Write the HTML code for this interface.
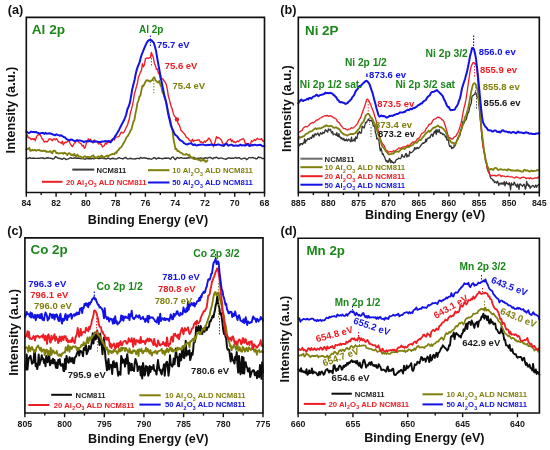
<!DOCTYPE html>
<html><head><meta charset="utf-8"><style>
html,body{margin:0;padding:0;background:#fff;width:550px;height:450px;overflow:hidden}
svg{display:block;will-change:transform;opacity:0.999}
</style></head><body>
<svg width="550" height="450" viewBox="0 0 550 450">
<rect width="550" height="450" fill="#fff"/>
<text x="7.8" y="13.5" font-size="12.7" fill="#111" text-anchor="start" font-family="&quot;Liberation Sans&quot;, sans-serif" font-weight="bold" >(a)</text>
<text x="0" y="0" font-size="12.8" fill="#111" text-anchor="middle" font-family="&quot;Liberation Sans&quot;, sans-serif" font-weight="bold" transform="translate(15.3,110) rotate(-90)">Intensity (a.u.)</text>
<text x="148" y="223.5" font-size="12.6" fill="#111" text-anchor="middle" font-family="&quot;Liberation Sans&quot;, sans-serif" font-weight="bold" >Binding Energy (eV)</text>
<line x1="264.50" y1="192.5" x2="264.50" y2="196.7" stroke="#111" stroke-width="1.4"/>
<text x="264.50" y="206" font-size="8.8" fill="#1a1a1a" text-anchor="middle" font-family="&quot;Liberation Sans&quot;, sans-serif" font-weight="bold" >68</text>
<line x1="249.61" y1="192.5" x2="249.61" y2="195.1" stroke="#111" stroke-width="1.4"/>
<line x1="234.72" y1="192.5" x2="234.72" y2="196.7" stroke="#111" stroke-width="1.4"/>
<text x="234.72" y="206" font-size="8.8" fill="#1a1a1a" text-anchor="middle" font-family="&quot;Liberation Sans&quot;, sans-serif" font-weight="bold" >70</text>
<line x1="219.84" y1="192.5" x2="219.84" y2="195.1" stroke="#111" stroke-width="1.4"/>
<line x1="204.95" y1="192.5" x2="204.95" y2="196.7" stroke="#111" stroke-width="1.4"/>
<text x="204.95" y="206" font-size="8.8" fill="#1a1a1a" text-anchor="middle" font-family="&quot;Liberation Sans&quot;, sans-serif" font-weight="bold" >72</text>
<line x1="190.06" y1="192.5" x2="190.06" y2="195.1" stroke="#111" stroke-width="1.4"/>
<line x1="175.18" y1="192.5" x2="175.18" y2="196.7" stroke="#111" stroke-width="1.4"/>
<text x="175.18" y="206" font-size="8.8" fill="#1a1a1a" text-anchor="middle" font-family="&quot;Liberation Sans&quot;, sans-serif" font-weight="bold" >74</text>
<line x1="160.29" y1="192.5" x2="160.29" y2="195.1" stroke="#111" stroke-width="1.4"/>
<line x1="145.40" y1="192.5" x2="145.40" y2="196.7" stroke="#111" stroke-width="1.4"/>
<text x="145.40" y="206" font-size="8.8" fill="#1a1a1a" text-anchor="middle" font-family="&quot;Liberation Sans&quot;, sans-serif" font-weight="bold" >76</text>
<line x1="130.51" y1="192.5" x2="130.51" y2="195.1" stroke="#111" stroke-width="1.4"/>
<line x1="115.62" y1="192.5" x2="115.62" y2="196.7" stroke="#111" stroke-width="1.4"/>
<text x="115.62" y="206" font-size="8.8" fill="#1a1a1a" text-anchor="middle" font-family="&quot;Liberation Sans&quot;, sans-serif" font-weight="bold" >78</text>
<line x1="100.74" y1="192.5" x2="100.74" y2="195.1" stroke="#111" stroke-width="1.4"/>
<line x1="85.85" y1="192.5" x2="85.85" y2="196.7" stroke="#111" stroke-width="1.4"/>
<text x="85.85" y="206" font-size="8.8" fill="#1a1a1a" text-anchor="middle" font-family="&quot;Liberation Sans&quot;, sans-serif" font-weight="bold" >80</text>
<line x1="70.96" y1="192.5" x2="70.96" y2="195.1" stroke="#111" stroke-width="1.4"/>
<line x1="56.08" y1="192.5" x2="56.08" y2="196.7" stroke="#111" stroke-width="1.4"/>
<text x="56.08" y="206" font-size="8.8" fill="#1a1a1a" text-anchor="middle" font-family="&quot;Liberation Sans&quot;, sans-serif" font-weight="bold" >82</text>
<line x1="41.19" y1="192.5" x2="41.19" y2="195.1" stroke="#111" stroke-width="1.4"/>
<line x1="26.30" y1="192.5" x2="26.30" y2="196.7" stroke="#111" stroke-width="1.4"/>
<text x="26.30" y="206" font-size="8.8" fill="#1a1a1a" text-anchor="middle" font-family="&quot;Liberation Sans&quot;, sans-serif" font-weight="bold" >84</text>
<path d="M26.3,158.3 L27.5,158.5 L28.7,158.2 L29.9,157.5 L31.1,158.4 L32.3,158.4 L33.5,158.0 L34.7,158.4 L35.9,158.4 L37.1,158.4 L38.3,158.3 L39.5,158.4 L40.7,157.9 L41.9,158.0 L43.1,158.0 L44.3,158.5 L45.5,158.3 L46.8,158.0 L48.0,157.8 L49.2,158.1 L50.4,158.2 L51.6,158.4 L52.8,159.1 L54.0,158.7 L55.2,156.8 L56.4,157.0 L57.6,158.0 L58.8,158.2 L60.0,158.5 L61.2,158.8 L62.4,159.4 L63.6,158.1 L64.8,158.4 L66.0,159.6 L67.2,159.2 L68.4,158.8 L69.6,158.1 L70.8,157.6 L72.0,158.4 L73.2,158.4 L74.4,157.8 L75.6,158.0 L76.8,158.3 L78.0,158.0 L79.2,158.4 L80.4,158.6 L81.6,158.5 L82.8,158.4 L84.0,158.9 L85.2,159.2 L86.5,158.7 L87.7,158.3 L88.9,158.8 L90.1,158.5 L91.3,158.8 L92.5,158.2 L93.7,158.9 L94.9,158.5 L96.1,157.9 L97.3,158.3 L98.5,158.6 L99.7,158.6 L100.9,158.0 L102.1,157.9 L103.3,158.5 L104.5,158.4 L105.7,158.8 L106.9,158.8 L108.1,157.9 L109.3,158.7 L110.5,159.2 L111.7,158.5 L112.9,158.2 L114.1,158.9 L115.3,158.9 L116.5,159.0 L117.7,158.3 L118.9,157.7 L120.1,158.2 L121.3,158.4 L122.5,158.9 L123.7,158.5 L124.9,157.5 L126.2,157.8 L127.4,158.9 L128.6,158.9 L129.8,158.3 L131.0,158.5 L132.2,158.8 L133.4,158.9 L134.6,159.0 L135.8,158.7 L137.0,158.4 L138.2,158.4 L139.4,158.7 L140.6,157.4 L141.8,158.1 L143.0,158.2 L144.2,157.7 L145.4,158.3 L146.6,158.2 L147.8,158.8 L149.0,158.5 L150.2,158.9 L151.4,159.2 L152.6,158.6 L153.8,157.8 L155.0,157.7 L156.2,159.1 L157.4,158.4 L158.6,158.0 L159.8,158.3 L161.0,158.4 L162.2,158.8 L163.4,158.5 L164.6,158.2 L165.9,158.0 L167.1,158.3 L168.3,157.9 L169.5,158.7 L170.7,159.0 L171.9,157.4 L173.1,156.9 L174.3,158.6 L175.5,159.6 L176.7,157.9 L177.9,157.5 L179.1,158.3 L180.3,157.8 L181.5,157.8 L182.7,158.1 L183.9,158.4 L185.1,158.1 L186.3,158.3 L187.5,158.0 L188.7,157.7 L189.9,157.8 L191.1,157.7 L192.3,157.9 L193.5,157.5 L194.7,157.7 L195.9,158.8 L197.1,158.4 L198.3,158.2 L199.5,158.4 L200.7,158.0 L201.9,158.1 L203.1,158.4 L204.3,158.3 L205.6,157.7 L206.8,158.4 L208.0,157.9 L209.2,157.4 L210.4,157.5 L211.6,158.1 L212.8,158.9 L214.0,157.8 L215.2,157.8 L216.4,157.1 L217.6,158.0 L218.8,158.6 L220.0,158.1 L221.2,157.9 L222.4,158.3 L223.6,158.7 L224.8,158.9 L226.0,159.4 L227.2,158.5 L228.4,157.9 L229.6,158.0 L230.8,158.2 L232.0,158.2 L233.2,158.2 L234.4,158.1 L235.6,157.4 L236.8,158.3 L238.0,157.8 L239.2,157.6 L240.4,158.6 L241.6,159.1 L242.8,158.7 L244.0,158.2 L245.3,158.1 L246.5,159.7 L247.7,158.9 L248.9,157.6 L250.1,157.6 L251.3,157.9 L252.5,157.4 L253.7,158.0 L254.9,158.1 L256.1,158.9 L257.3,158.5 L258.5,156.9 L259.7,157.6 L260.9,157.5 L262.1,158.6 L263.3,158.5 L264.5,158.6" fill="none" stroke="#333" stroke-width="1.4" stroke-linejoin="round" stroke-linecap="round" opacity="1"/>
<path d="M26.3,149.4 L27.3,149.0 L28.3,149.0 L29.3,147.8 L30.3,150.9 L31.3,150.7 L32.3,149.7 L33.3,150.5 L34.3,150.2 L35.3,149.8 L36.3,150.9 L37.3,150.1 L38.3,150.1 L39.3,149.9 L40.3,150.9 L41.3,150.7 L42.3,151.2 L43.3,150.5 L44.3,151.0 L45.3,150.6 L46.3,151.8 L47.3,151.6 L48.3,151.8 L49.3,151.9 L50.3,151.0 L51.3,152.5 L52.3,153.4 L53.3,150.9 L54.3,150.7 L55.3,151.1 L56.3,153.0 L57.3,152.8 L58.3,153.5 L59.3,153.4 L60.3,153.1 L61.3,153.2 L62.3,153.1 L63.3,153.8 L64.3,152.6 L65.3,153.1 L66.3,153.9 L67.3,155.1 L68.3,153.4 L69.3,153.2 L70.3,153.8 L71.3,155.1 L72.4,154.6 L73.4,155.7 L74.4,153.8 L75.4,156.0 L76.4,156.2 L77.4,154.6 L78.4,155.9 L79.4,156.9 L80.4,156.4 L81.4,157.2 L82.4,158.3 L83.4,156.9 L84.4,156.5 L85.4,156.3 L86.4,157.4 L87.4,156.9 L88.4,156.9 L89.4,157.0 L90.4,157.5 L91.4,156.2 L92.4,155.7 L93.4,155.2 L94.4,157.8 L95.4,157.2 L96.4,158.1 L97.4,156.9 L98.4,156.3 L99.4,157.1 L100.4,156.6 L101.4,155.7 L102.4,155.9 L103.4,157.8 L104.4,156.8 L105.4,156.6 L106.4,155.9 L107.4,155.5 L108.4,156.4 L109.4,155.4 L110.4,154.6 L111.4,154.6 L112.4,153.8 L113.4,154.2 L114.4,154.4 L115.4,152.4 L116.4,153.1 L117.4,150.8 L118.4,150.2 L119.4,148.5 L120.4,147.8 L121.4,146.8 L122.4,145.2 L123.4,143.5 L124.4,141.8 L125.4,139.9 L126.4,137.5 L127.4,136.4 L128.4,134.9 L129.4,133.1 L130.4,130.8 L131.4,129.5 L132.4,125.4 L133.4,121.8 L134.4,120.0 L135.4,113.9 L136.4,109.3 L137.4,103.2 L138.4,101.0 L139.4,96.5 L140.4,95.8 L141.4,90.4 L142.4,85.6 L143.4,86.2 L144.4,83.9 L145.4,81.9 L146.4,80.2 L147.4,80.6 L148.4,80.3 L149.4,81.4 L150.4,81.6 L151.4,80.3 L152.4,80.1 L153.4,78.0 L154.4,77.2 L155.4,80.0 L156.4,81.3 L157.4,82.1 L158.4,82.6 L159.4,80.8 L160.4,85.1 L161.4,86.9 L162.5,92.5 L163.5,93.9 L164.5,97.4 L165.5,99.7 L166.5,103.5 L167.5,108.7 L168.5,112.9 L169.5,117.6 L170.5,120.6 L171.5,126.5 L172.5,130.7 L173.5,139.0 L174.5,144.2 L175.5,149.2 L176.5,149.0 L177.5,151.1 L178.5,151.0 L179.5,151.8 L180.5,152.7 L181.5,152.9 L182.5,153.8 L183.5,154.5 L184.5,154.7 L185.5,154.4 L186.5,153.9 L187.5,154.7 L188.5,155.5 L189.5,154.8 L190.5,157.2 L191.5,157.2 L192.5,157.6 L193.5,158.9 L194.5,159.2 L195.5,159.1 L196.5,158.5 L197.5,159.6 L198.5,159.9 L199.5,159.3 L200.5,160.9 L201.5,160.7 L202.5,159.1 L203.5,160.6 L204.5,160.0 L205.5,161.8 L206.5,161.6 L207.5,160.3" fill="none" stroke="#7f7f0c" stroke-width="1.8" stroke-linejoin="round" stroke-linecap="round" opacity="1"/>
<path d="M26.3,138.3 L27.3,134.9 L28.3,137.7 L29.3,137.7 L30.3,138.6 L31.3,139.6 L32.3,138.6 L33.3,139.6 L34.3,138.4 L35.3,140.6 L36.3,137.2 L37.3,135.5 L38.3,134.8 L39.3,134.4 L40.3,135.1 L41.3,137.0 L42.3,139.1 L43.3,140.1 L44.3,142.1 L45.3,141.5 L46.3,141.3 L47.3,141.9 L48.3,140.3 L49.3,138.7 L50.3,138.8 L51.3,139.6 L52.3,140.8 L53.3,138.9 L54.3,138.9 L55.3,139.9 L56.3,138.6 L57.3,139.7 L58.3,141.6 L59.3,142.2 L60.3,142.4 L61.3,143.3 L62.3,141.2 L63.3,144.7 L64.3,143.3 L65.3,142.0 L66.3,142.5 L67.3,141.9 L68.3,140.7 L69.3,141.3 L70.3,143.9 L71.3,145.3 L72.3,146.5 L73.3,145.1 L74.3,143.2 L75.3,142.5 L76.3,140.4 L77.3,139.7 L78.3,141.7 L79.3,142.9 L80.3,143.2 L81.3,144.0 L82.3,146.1 L83.3,145.2 L84.3,148.4 L85.3,147.3 L86.4,142.6 L87.4,140.9 L88.4,138.9 L89.4,140.6 L90.4,139.2 L91.4,140.9 L92.4,142.6 L93.4,142.8 L94.4,139.9 L95.4,141.0 L96.4,141.8 L97.4,141.7 L98.4,144.0 L99.4,142.6 L100.4,144.4 L101.4,144.2 L102.4,147.0 L103.4,146.3 L104.4,145.4 L105.4,142.9 L106.4,144.1 L107.4,142.7 L108.4,142.3 L109.4,142.3 L110.4,141.3 L111.4,140.0 L112.4,139.4 L113.4,139.0 L114.4,140.1 L115.4,137.2 L116.4,137.1 L117.4,136.8 L118.4,136.6 L119.4,136.0 L120.4,133.5 L121.4,132.2 L122.4,132.8 L123.4,132.9 L124.4,131.3 L125.4,129.2 L126.4,127.0 L127.4,125.3 L128.4,122.0 L129.4,118.5 L130.4,112.8 L131.4,109.6 L132.4,105.4 L133.4,100.6 L134.4,93.8 L135.4,90.7 L136.4,86.6 L137.4,83.3 L138.4,77.0 L139.4,75.2 L140.4,72.1 L141.4,70.6 L142.4,63.6 L143.4,66.9 L144.4,64.7 L145.4,58.9 L146.4,58.2 L147.4,57.9 L148.4,58.4 L149.4,57.8 L150.4,57.5 L151.4,52.5 L152.4,55.2 L153.4,57.8 L154.4,63.5 L155.4,65.3 L156.4,69.3 L157.4,68.9 L158.4,73.1 L159.4,74.2 L160.4,79.3 L161.4,79.1 L162.4,78.7 L163.4,79.6 L164.4,81.6 L165.4,82.5 L166.4,85.0 L167.4,89.8 L168.4,96.4 L169.4,99.7 L170.4,103.8 L171.4,107.0 L172.4,109.8 L173.4,113.7 L174.4,116.1 L175.4,117.2 L176.4,119.4 L177.4,121.5 L178.4,124.0 L179.4,125.2 L180.4,128.4 L181.4,130.9 L182.4,131.6 L183.4,132.9 L184.4,133.8 L185.4,135.4 L186.4,137.5 L187.4,137.6 L188.4,138.7 L189.4,140.3 L190.4,140.8 L191.4,141.9 L192.4,139.2 L193.4,141.6 L194.4,140.5 L195.4,140.4 L196.4,140.3 L197.4,140.0 L198.4,139.9 L199.4,140.0 L200.4,142.3 L201.4,141.8 L202.4,142.4 L203.4,142.8 L204.4,141.1 L205.5,142.2 L206.5,140.4 L207.5,140.4 L208.5,138.2 L209.5,138.5 L210.5,140.4 L211.5,142.6 L212.5,144.5 L213.5,146.8 L214.5,143.8 L215.5,140.3 L216.5,136.6 L217.5,138.2 L218.5,137.6 L219.5,138.2 L220.5,139.3 L221.5,140.3 L222.5,142.9 L223.5,144.8 L224.5,144.4 L225.5,144.0 L226.5,143.3 L227.5,140.7 L228.5,139.7 L229.5,139.4 L230.5,139.0 L231.5,141.5 L232.5,140.2 L233.5,142.1 L234.5,141.8 L235.5,142.7 L236.5,141.7 L237.5,141.0 L238.5,141.7 L239.5,140.4 L240.5,139.9 L241.5,139.4 L242.5,138.8 L243.5,138.7 L244.5,140.8 L245.5,144.3 L246.5,143.5 L247.5,144.7 L248.5,143.5 L249.5,144.7 L250.5,144.1 L251.5,140.7 L252.5,141.5 L253.5,140.7 L254.5,139.5 L255.5,140.5 L256.5,139.4 L257.5,138.1 L258.5,139.2 L259.5,139.4 L260.5,139.5 L261.5,138.6 L262.5,140.6 L263.5,141.4 L264.5,140.5" fill="none" stroke="#ee1d24" stroke-width="1.35" stroke-linejoin="round" stroke-linecap="round" opacity="1"/>
<path d="M26.3,131.8 L27.5,132.2 L28.7,133.1 L29.9,132.6 L31.1,131.6 L32.3,132.1 L33.5,132.1 L34.7,132.3 L35.9,131.8 L37.1,132.6 L38.3,133.0 L39.5,133.6 L40.7,133.3 L41.9,133.1 L43.1,132.7 L44.3,133.9 L45.5,132.9 L46.8,133.8 L48.0,133.6 L49.2,133.3 L50.4,133.5 L51.6,133.9 L52.8,134.5 L54.0,134.8 L55.2,135.3 L56.4,134.3 L57.6,134.9 L58.8,135.2 L60.0,135.8 L61.2,135.2 L62.4,136.2 L63.6,137.0 L64.8,137.2 L66.0,138.7 L67.2,139.3 L68.4,140.0 L69.6,140.3 L70.8,139.6 L72.0,139.7 L73.2,140.3 L74.4,141.0 L75.6,141.1 L76.8,140.4 L78.0,140.4 L79.2,140.4 L80.4,140.6 L81.6,140.9 L82.8,141.4 L84.0,142.2 L85.2,141.3 L86.5,141.3 L87.7,141.5 L88.9,141.0 L90.1,141.2 L91.3,141.5 L92.5,141.7 L93.7,141.1 L94.9,141.9 L96.1,141.4 L97.3,141.6 L98.5,141.9 L99.7,141.9 L100.9,142.0 L102.1,141.5 L103.3,141.4 L104.5,141.3 L105.7,141.0 L106.9,141.7 L108.1,141.1 L109.3,141.1 L110.5,142.4 L111.7,140.9 L112.9,139.0 L114.1,138.3 L115.3,135.8 L116.5,134.4 L117.7,132.1 L118.9,130.2 L120.1,127.6 L121.3,125.2 L122.5,123.1 L123.7,120.8 L124.9,118.1 L126.2,114.5 L127.4,109.3 L128.6,106.8 L129.8,103.1 L131.0,96.6 L132.2,89.4 L133.4,84.5 L134.6,79.7 L135.8,73.5 L137.0,68.8 L138.2,65.7 L139.4,62.9 L140.6,58.2 L141.8,54.3 L143.0,51.4 L144.2,48.3 L145.4,45.6 L146.6,43.1 L147.8,41.1 L149.0,40.2 L150.2,39.8 L151.4,40.2 L152.6,41.5 L153.8,42.7 L155.0,46.7 L156.2,51.8 L157.4,59.0 L158.6,65.6 L159.8,72.1 L161.0,78.7 L162.2,84.7 L163.4,90.7 L164.6,96.6 L165.9,101.4 L167.1,107.3 L168.3,114.5 L169.5,119.3 L170.7,124.9 L171.9,127.8 L173.1,130.4 L174.3,133.5 L175.5,135.2 L176.7,135.8 L177.9,137.3 L179.1,139.0 L180.3,140.4 L181.5,140.8 L182.7,141.7 L183.9,143.1 L185.1,143.6 L186.3,144.3 L187.5,144.4 L188.7,143.7 L189.9,143.5 L191.1,143.1 L192.3,144.3 L193.5,145.1 L194.7,144.4 L195.9,145.3 L197.1,145.4 L198.3,144.9 L199.5,144.8 L200.7,144.7 L201.9,144.4 L203.1,144.6 L204.3,144.9 L205.6,145.2 L206.8,145.2 L208.0,144.7 L209.2,145.1 L210.4,144.6 L211.6,144.8 L212.8,145.1 L214.0,144.9 L215.2,144.9 L216.4,145.0 L217.6,144.6 L218.8,144.5 L220.0,144.9 L221.2,145.4 L222.4,145.2 L223.6,145.9 L224.8,144.9 L226.0,143.5 L227.2,144.6 L228.4,145.7 L229.6,145.1 L230.8,144.7 L232.0,144.7 L233.2,145.7 L234.4,145.8 L235.6,145.6 L236.8,145.5 L238.0,145.9 L239.2,145.5 L240.4,144.7 L241.6,145.4 L242.8,145.3 L244.0,145.2 L245.3,145.5 L246.5,144.9 L247.7,144.0 L248.9,145.7 L250.1,145.9 L251.3,145.2 L252.5,145.1 L253.7,145.2 L254.9,144.7 L256.1,145.2 L257.3,145.2 L258.5,145.0 L259.7,144.8 L260.9,145.0 L262.1,146.0 L263.3,146.2 L264.5,145.9" fill="none" stroke="#1212e6" stroke-width="2.0" stroke-linejoin="round" stroke-linecap="round" opacity="1"/>
<circle cx="176.9" cy="119.4" r="2.2" fill="#ee1d24"/>
<line x1="150.4" y1="35.5" x2="150.4" y2="46" stroke="#1212e6" stroke-width="1.0" stroke-dasharray="1.5,1.5"/>
<line x1="151.5" y1="52" x2="151.5" y2="66" stroke="#ee1d24" stroke-width="0.9" stroke-dasharray="1.5,1.5"/>
<line x1="153.8" y1="77" x2="153.8" y2="93" stroke="#7f7f0c" stroke-width="1.0" stroke-dasharray="1.5,1.5"/>
<text x="139" y="32.7" font-size="10" fill="#1b871b" text-anchor="start" font-family="&quot;Liberation Sans&quot;, sans-serif" font-weight="bold" >Al 2p</text>
<text x="31.8" y="33.9" font-size="13.6" fill="#1b871b" text-anchor="start" font-family="&quot;Liberation Sans&quot;, sans-serif" font-weight="bold" >Al 2p</text>
<text x="156.9" y="47.5" font-size="9.5" fill="#1212e6" text-anchor="start" font-family="&quot;Liberation Sans&quot;, sans-serif" font-weight="bold" >75.7 eV</text>
<text x="164.7" y="69.2" font-size="9.5" fill="#ee1d24" text-anchor="start" font-family="&quot;Liberation Sans&quot;, sans-serif" font-weight="bold" >75.6 eV</text>
<text x="172.4" y="89.4" font-size="9.5" fill="#7f7f0c" text-anchor="start" font-family="&quot;Liberation Sans&quot;, sans-serif" font-weight="bold" >75.4 eV</text>
<line x1="72.3" y1="169.6" x2="94.3" y2="169.6" stroke="#3c3c3c" stroke-width="2.0"/>
<text x="96.4" y="173.0" font-size="7.7" fill="#222" text-anchor="start" font-family="&quot;Liberation Sans&quot;, sans-serif" font-weight="bold" >NCM811</text>
<line x1="148" y1="170.2" x2="169.5" y2="170.2" stroke="#7f7f0c" stroke-width="2.0"/>
<text x="172.3" y="173.0" font-size="7.7" fill="#7f7f0c" text-anchor="start" font-family="&quot;Liberation Sans&quot;, sans-serif" font-weight="bold" >10 Al<tspan dy="2.6" dx="0.4" font-size="5.2">2</tspan><tspan dy="-2.6" dx="0.2">O</tspan><tspan dy="2.6" dx="0.2" font-size="5.2">3</tspan><tspan dy="-2.6" dx="0.2"> ALD NCM811</tspan></text>
<line x1="42" y1="181.8" x2="62.4" y2="181.8" stroke="#ee1d24" stroke-width="2.0"/>
<text x="66.1" y="184.6" font-size="7.7" fill="#ee1d24" text-anchor="start" font-family="&quot;Liberation Sans&quot;, sans-serif" font-weight="bold" >20 Al<tspan dy="2.6" dx="0.4" font-size="5.2">2</tspan><tspan dy="-2.6" dx="0.2">O</tspan><tspan dy="2.6" dx="0.2" font-size="5.2">3</tspan><tspan dy="-2.6" dx="0.2"> ALD NCM811</tspan></text>
<line x1="148" y1="182.5" x2="169.5" y2="182.5" stroke="#1212e6" stroke-width="2.0"/>
<text x="172.3" y="185.3" font-size="7.7" fill="#1212e6" text-anchor="start" font-family="&quot;Liberation Sans&quot;, sans-serif" font-weight="bold" >50 Al<tspan dy="2.6" dx="0.4" font-size="5.2">2</tspan><tspan dy="-2.6" dx="0.2">O</tspan><tspan dy="2.6" dx="0.2" font-size="5.2">3</tspan><tspan dy="-2.6" dx="0.2"> ALD NCM811</tspan></text>
<path d="M26.3,17.3 H264.5 V192.5 H26.3 Z" fill="none" stroke="#111" stroke-width="1.65" stroke-linejoin="miter"/>
<text x="280.2" y="13.6" font-size="12.7" fill="#111" text-anchor="start" font-family="&quot;Liberation Sans&quot;, sans-serif" font-weight="bold" >(b)</text>
<text x="0" y="0" font-size="12.8" fill="#111" text-anchor="middle" font-family="&quot;Liberation Sans&quot;, sans-serif" font-weight="bold" transform="translate(291.2,108.5) rotate(-90)">Intensity (a.u.)</text>
<text x="425.1" y="218.9" font-size="12.6" fill="#111" text-anchor="middle" font-family="&quot;Liberation Sans&quot;, sans-serif" font-weight="bold" >Binding Energy (eV)</text>
<line x1="539.30" y1="192.4" x2="539.30" y2="196.6" stroke="#111" stroke-width="1.4"/>
<text x="539.30" y="206" font-size="8.8" fill="#1a1a1a" text-anchor="middle" font-family="&quot;Liberation Sans&quot;, sans-serif" font-weight="bold" >845</text>
<line x1="524.24" y1="192.4" x2="524.24" y2="195.0" stroke="#111" stroke-width="1.4"/>
<line x1="509.17" y1="192.4" x2="509.17" y2="196.6" stroke="#111" stroke-width="1.4"/>
<text x="509.17" y="206" font-size="8.8" fill="#1a1a1a" text-anchor="middle" font-family="&quot;Liberation Sans&quot;, sans-serif" font-weight="bold" >850</text>
<line x1="494.11" y1="192.4" x2="494.11" y2="195.0" stroke="#111" stroke-width="1.4"/>
<line x1="479.05" y1="192.4" x2="479.05" y2="196.6" stroke="#111" stroke-width="1.4"/>
<text x="479.05" y="206" font-size="8.8" fill="#1a1a1a" text-anchor="middle" font-family="&quot;Liberation Sans&quot;, sans-serif" font-weight="bold" >855</text>
<line x1="463.99" y1="192.4" x2="463.99" y2="195.0" stroke="#111" stroke-width="1.4"/>
<line x1="448.92" y1="192.4" x2="448.92" y2="196.6" stroke="#111" stroke-width="1.4"/>
<text x="448.92" y="206" font-size="8.8" fill="#1a1a1a" text-anchor="middle" font-family="&quot;Liberation Sans&quot;, sans-serif" font-weight="bold" >860</text>
<line x1="433.86" y1="192.4" x2="433.86" y2="195.0" stroke="#111" stroke-width="1.4"/>
<line x1="418.80" y1="192.4" x2="418.80" y2="196.6" stroke="#111" stroke-width="1.4"/>
<text x="418.80" y="206" font-size="8.8" fill="#1a1a1a" text-anchor="middle" font-family="&quot;Liberation Sans&quot;, sans-serif" font-weight="bold" >865</text>
<line x1="403.74" y1="192.4" x2="403.74" y2="195.0" stroke="#111" stroke-width="1.4"/>
<line x1="388.67" y1="192.4" x2="388.67" y2="196.6" stroke="#111" stroke-width="1.4"/>
<text x="388.67" y="206" font-size="8.8" fill="#1a1a1a" text-anchor="middle" font-family="&quot;Liberation Sans&quot;, sans-serif" font-weight="bold" >870</text>
<line x1="373.61" y1="192.4" x2="373.61" y2="195.0" stroke="#111" stroke-width="1.4"/>
<line x1="358.55" y1="192.4" x2="358.55" y2="196.6" stroke="#111" stroke-width="1.4"/>
<text x="358.55" y="206" font-size="8.8" fill="#1a1a1a" text-anchor="middle" font-family="&quot;Liberation Sans&quot;, sans-serif" font-weight="bold" >875</text>
<line x1="343.49" y1="192.4" x2="343.49" y2="195.0" stroke="#111" stroke-width="1.4"/>
<line x1="328.43" y1="192.4" x2="328.43" y2="196.6" stroke="#111" stroke-width="1.4"/>
<text x="328.43" y="206" font-size="8.8" fill="#1a1a1a" text-anchor="middle" font-family="&quot;Liberation Sans&quot;, sans-serif" font-weight="bold" >880</text>
<line x1="313.36" y1="192.4" x2="313.36" y2="195.0" stroke="#111" stroke-width="1.4"/>
<line x1="298.30" y1="192.4" x2="298.30" y2="196.6" stroke="#111" stroke-width="1.4"/>
<text x="298.30" y="206" font-size="8.8" fill="#1a1a1a" text-anchor="middle" font-family="&quot;Liberation Sans&quot;, sans-serif" font-weight="bold" >885</text>
<path d="M298.3,142.4 L299.0,145.3 L299.7,145.7 L300.4,143.6 L301.1,144.0 L301.8,143.6 L302.5,144.6 L303.2,142.9 L303.9,143.1 L304.6,138.8 L305.3,143.1 L306.0,140.2 L306.7,140.8 L307.4,139.2 L308.1,138.4 L308.8,139.2 L309.5,139.4 L310.2,137.7 L310.9,137.5 L311.6,138.4 L312.3,135.9 L313.0,134.8 L313.7,137.3 L314.4,135.5 L315.1,133.5 L315.8,134.8 L316.5,135.0 L317.2,133.7 L317.9,132.9 L318.6,134.9 L319.3,135.8 L320.0,133.9 L320.7,132.7 L321.4,134.0 L322.1,134.0 L322.8,132.1 L323.5,132.9 L324.2,133.2 L324.9,130.9 L325.6,129.7 L326.3,131.2 L327.0,130.9 L327.7,132.1 L328.4,128.8 L329.1,130.0 L329.8,130.1 L330.5,129.2 L331.2,132.2 L331.9,133.1 L332.6,131.5 L333.3,134.8 L334.0,134.2 L334.7,134.2 L335.4,134.2 L336.1,135.4 L336.8,132.6 L337.5,136.0 L338.2,136.5 L338.9,133.6 L339.6,137.1 L340.3,136.9 L341.0,138.9 L341.7,137.7 L342.4,138.8 L343.1,139.8 L343.8,138.4 L344.5,140.7 L345.2,139.8 L345.9,140.5 L346.6,139.0 L347.3,141.1 L348.0,140.3 L348.7,139.0 L349.4,140.0 L350.1,140.9 L350.8,141.7 L351.5,137.2 L352.2,141.2 L352.9,141.0 L353.6,140.3 L354.3,138.8 L355.0,141.4 L355.7,136.9 L356.4,138.5 L357.1,138.3 L357.8,133.0 L358.6,133.8 L359.3,131.3 L360.0,132.5 L360.7,133.3 L361.4,132.8 L362.1,126.1 L362.8,126.7 L363.5,127.6 L364.2,128.0 L364.9,125.2 L365.6,122.4 L366.3,122.8 L367.0,121.4 L367.7,120.3 L368.4,119.0 L369.1,120.5 L369.8,120.5 L370.5,120.4 L371.2,120.9 L371.9,120.3 L372.6,122.5 L373.3,126.2 L374.0,125.9 L374.7,126.3 L375.4,132.7 L376.1,134.1 L376.8,138.8 L377.5,138.1 L378.2,139.6 L378.9,140.5 L379.6,146.8 L380.3,150.9 L381.0,148.2 L381.7,150.6 L382.4,154.3 L383.1,153.8 L383.8,155.8 L384.5,156.9 L385.2,158.8 L385.9,161.1 L386.6,160.5 L387.3,162.4 L388.0,160.9 L388.7,162.1 L389.4,158.5 L390.1,159.5 L390.8,162.7 L391.5,160.7 L392.2,162.3 L392.9,162.2 L393.6,163.2 L394.3,162.3 L395.0,162.5 L395.7,160.7 L396.4,159.6 L397.1,159.3 L397.8,159.3 L398.5,158.0 L399.2,158.4 L399.9,158.6 L400.6,158.6 L401.3,157.2 L402.0,154.4 L402.7,156.6 L403.4,156.6 L404.1,157.4 L404.8,156.2 L405.5,154.0 L406.2,153.5 L406.9,157.1 L407.6,155.0 L408.3,156.1 L409.0,156.2 L409.7,151.5 L410.4,152.8 L411.1,152.6 L411.8,152.3 L412.5,151.9 L413.2,151.0 L413.9,150.5 L414.6,147.7 L415.3,149.2 L416.0,147.9 L416.7,148.7 L417.4,147.4 L418.1,148.5 L418.8,148.3 L419.5,147.0 L420.2,146.4 L420.9,145.5 L421.6,144.1 L422.3,143.9 L423.0,142.8 L423.7,143.4 L424.4,142.3 L425.1,142.5 L425.8,139.1 L426.5,141.7 L427.2,138.8 L427.9,138.2 L428.6,138.4 L429.3,137.3 L430.0,137.8 L430.7,135.8 L431.4,134.4 L432.1,134.1 L432.8,136.5 L433.5,134.0 L434.2,131.7 L434.9,132.8 L435.6,130.1 L436.3,134.5 L437.0,129.5 L437.7,132.1 L438.4,132.2 L439.1,129.4 L439.8,132.1 L440.5,133.4 L441.2,133.0 L441.9,133.1 L442.6,134.6 L443.3,134.0 L444.0,134.8 L444.7,134.9 L445.4,137.1 L446.1,136.1 L446.8,139.9 L447.5,139.4 L448.2,139.9 L448.9,143.3 L449.6,146.4 L450.3,146.7 L451.0,145.8 L451.7,148.6 L452.4,147.5 L453.1,147.9 L453.8,147.6 L454.5,143.2 L455.2,145.9 L455.9,143.0 L456.6,142.1 L457.3,139.4 L458.0,137.6 L458.7,136.4 L459.4,136.4 L460.1,134.8 L460.8,129.6 L461.5,128.8 L462.2,125.1 L462.9,121.4 L463.6,123.3 L464.3,122.7 L465.0,120.4 L465.7,120.1 L466.4,119.2 L467.1,115.7 L467.8,113.2 L468.5,112.9 L469.2,109.9 L469.9,106.3 L470.6,104.9 L471.3,102.7 L472.0,96.4 L472.7,95.7 L473.4,95.3 L474.1,94.3 L474.8,94.3 L475.5,92.0 L476.2,93.8 L476.9,96.9 L477.6,97.3 L478.3,98.0 L479.0,104.2 L479.8,113.5 L480.5,121.6 L481.2,127.8 L481.9,137.6 L482.6,139.8 L483.3,147.5 L484.0,151.2 L484.7,153.5 L485.4,160.7 L486.1,162.8 L486.8,163.9 L487.5,169.6 L488.2,170.9 L488.9,170.9 L489.6,174.1 L490.3,176.8 L491.0,178.5 L491.7,178.7 L492.4,179.3 L493.1,180.6 L493.8,180.2 L494.5,182.7 L495.2,181.7 L495.9,182.3 L496.6,183.1 L497.3,181.1 L498.0,181.9 L498.7,185.4 L499.4,183.9 L500.1,183.1 L500.8,184.1 L501.5,183.0 L502.2,184.1 L502.9,182.9 L503.6,184.2 L504.3,181.7 L505.0,185.9 L505.7,183.3 L506.4,181.8 L507.1,183.8 L507.8,183.7 L508.5,184.5 L509.2,182.7 L509.9,185.1 L510.6,189.8 L511.3,182.8 L512.0,185.1 L512.7,184.2 L513.4,184.9 L514.1,182.1 L514.8,183.1 L515.5,185.5 L516.2,184.9 L516.9,187.3 L517.6,184.0 L518.3,185.3 L519.0,189.3 L519.7,184.0 L520.4,183.8 L521.1,185.1 L521.8,185.1 L522.5,186.4 L523.2,185.4 L523.9,184.1 L524.6,185.6 L525.3,189.2 L526.0,187.2 L526.7,181.3 L527.4,185.1 L528.1,184.1 L528.8,186.3 L529.5,185.2 L530.2,188.3 L530.9,186.9 L531.6,186.8 L532.3,185.7 L533.0,185.4 L533.7,186.0 L534.4,187.4 L535.1,186.3 L535.8,185.0 L536.5,187.4 L537.2,185.8 L537.9,185.4 L538.6,184.3 L539.3,184.6" fill="none" stroke="#333" stroke-width="1.3" stroke-linejoin="round" stroke-linecap="round" opacity="1"/>
<path d="M298.3,132.5 L299.3,132.2 L300.3,131.4 L301.3,130.7 L302.3,130.1 L303.3,128.0 L304.3,127.2 L305.3,126.5 L306.3,126.7 L307.3,126.9 L308.3,125.9 L309.3,125.1 L310.4,123.3 L311.4,123.2 L312.4,122.4 L313.4,122.9 L314.4,122.1 L315.4,121.2 L316.4,120.2 L317.4,120.0 L318.4,119.6 L319.4,118.6 L320.4,118.0 L321.4,117.6 L322.4,116.8 L323.4,116.3 L324.4,116.0 L325.4,115.6 L326.4,116.0 L327.4,115.3 L328.4,116.3 L329.4,116.0 L330.4,116.0 L331.4,116.0 L332.4,116.9 L333.4,117.5 L334.4,118.1 L335.5,118.4 L336.5,119.6 L337.5,121.6 L338.5,122.2 L339.5,123.1 L340.5,125.0 L341.5,125.9 L342.5,127.4 L343.5,128.5 L344.5,128.7 L345.5,128.7 L346.5,129.7 L347.5,130.0 L348.5,129.2 L349.5,129.1 L350.5,128.8 L351.5,127.7 L352.5,128.1 L353.5,127.9 L354.5,126.9 L355.5,125.9 L356.5,124.7 L357.5,123.6 L358.6,121.0 L359.6,119.1 L360.6,117.6 L361.6,114.8 L362.6,112.0 L363.6,109.3 L364.6,106.5 L365.6,103.2 L366.6,99.7 L367.6,99.0 L368.6,100.5 L369.6,102.3 L370.6,104.4 L371.6,107.2 L372.6,109.8 L373.6,112.2 L374.6,115.7 L375.6,118.8 L376.6,122.5 L377.6,127.6 L378.6,132.4 L379.6,136.5 L380.6,139.7 L381.6,142.1 L382.6,144.1 L383.7,144.8 L384.7,147.2 L385.7,149.7 L386.7,150.9 L387.7,151.0 L388.7,152.3 L389.7,151.7 L390.7,151.6 L391.7,151.8 L392.7,151.7 L393.7,150.5 L394.7,151.2 L395.7,150.6 L396.7,149.6 L397.7,149.1 L398.7,147.9 L399.7,148.2 L400.7,148.3 L401.7,147.5 L402.7,147.1 L403.7,146.9 L404.7,146.7 L405.7,146.7 L406.8,145.8 L407.8,145.1 L408.8,145.3 L409.8,145.4 L410.8,143.8 L411.8,143.1 L412.8,141.8 L413.8,142.4 L414.8,141.9 L415.8,141.3 L416.8,139.6 L417.8,138.3 L418.8,138.3 L419.8,137.2 L420.8,135.0 L421.8,133.4 L422.8,133.1 L423.8,132.1 L424.8,131.9 L425.8,129.2 L426.8,127.6 L427.8,126.6 L428.8,124.7 L429.8,124.2 L430.8,124.2 L431.9,122.3 L432.9,120.5 L433.9,119.2 L434.9,119.2 L435.9,118.6 L436.9,117.7 L437.9,117.1 L438.9,117.4 L439.9,117.9 L440.9,118.4 L441.9,119.8 L442.9,120.0 L443.9,121.7 L444.9,124.7 L445.9,128.0 L446.9,131.1 L447.9,134.9 L448.9,137.4 L449.9,137.9 L450.9,138.4 L451.9,139.1 L452.9,138.8 L453.9,137.2 L454.9,136.6 L456.0,136.1 L457.0,133.8 L458.0,132.3 L459.0,129.9 L460.0,126.8 L461.0,123.4 L462.0,118.7 L463.0,112.9 L464.0,108.2 L465.0,104.0 L466.0,99.4 L467.0,92.5 L468.0,85.6 L469.0,78.6 L470.0,71.6 L471.0,67.0 L472.0,64.6 L473.0,62.6 L474.0,62.7 L475.0,63.4 L476.0,64.9 L477.0,70.2 L478.0,83.5 L479.0,96.1 L480.1,109.0 L481.1,125.6 L482.1,139.9 L483.1,147.1 L484.1,152.5 L485.1,156.8 L486.1,161.9 L487.1,167.5 L488.1,171.2 L489.1,173.1 L490.1,175.0 L491.1,175.8 L492.1,175.3 L493.1,175.5 L494.1,175.5 L495.1,175.3 L496.1,176.2 L497.1,175.7 L498.1,175.1 L499.1,174.6 L500.1,175.2 L501.1,176.6 L502.1,175.7 L503.1,176.2 L504.2,176.2 L505.2,176.7 L506.2,176.8 L507.2,176.1 L508.2,176.4 L509.2,176.7 L510.2,176.9 L511.2,176.8 L512.2,176.8 L513.2,177.5 L514.2,178.0 L515.2,177.6 L516.2,176.9 L517.2,177.4 L518.2,177.5 L519.2,178.0 L520.2,178.6 L521.2,177.7 L522.2,177.4 L523.2,177.1 L524.2,177.3 L525.2,177.6 L526.2,178.7 L527.2,178.2 L528.3,177.9 L529.3,178.8 L530.3,177.6 L531.3,178.4 L532.3,178.8 L533.3,178.5 L534.3,178.0 L535.3,177.9 L536.3,178.0 L537.3,178.2 L538.3,176.8 L539.3,177.4" fill="none" stroke="#ee1d24" stroke-width="1.3" stroke-linejoin="round" stroke-linecap="round" opacity="1"/>
<path d="M298.3,139.6 L299.3,136.9 L300.3,137.6 L301.3,137.2 L302.3,137.0 L303.3,136.2 L304.3,136.0 L305.3,134.6 L306.3,133.6 L307.3,133.5 L308.3,132.9 L309.3,131.9 L310.4,131.4 L311.4,131.4 L312.4,130.8 L313.4,129.7 L314.4,129.0 L315.4,128.2 L316.4,129.2 L317.4,128.5 L318.4,128.6 L319.4,128.2 L320.4,128.5 L321.4,128.1 L322.4,127.3 L323.4,127.1 L324.4,126.0 L325.4,126.3 L326.4,125.2 L327.4,125.8 L328.4,126.4 L329.4,126.1 L330.4,125.9 L331.4,125.9 L332.4,126.5 L333.4,127.6 L334.4,127.8 L335.5,127.4 L336.5,127.4 L337.5,128.5 L338.5,128.5 L339.5,129.7 L340.5,130.9 L341.5,132.5 L342.5,133.3 L343.5,134.1 L344.5,134.6 L345.5,134.7 L346.5,135.3 L347.5,135.6 L348.5,134.7 L349.5,134.4 L350.5,134.0 L351.5,134.2 L352.5,134.0 L353.5,133.8 L354.5,133.4 L355.5,133.2 L356.5,131.5 L357.5,130.3 L358.6,129.1 L359.6,128.0 L360.6,125.6 L361.6,123.7 L362.6,122.7 L363.6,121.4 L364.6,118.9 L365.6,115.7 L366.6,114.7 L367.6,113.9 L368.6,113.8 L369.6,115.2 L370.6,117.4 L371.6,118.1 L372.6,119.4 L373.6,121.9 L374.6,124.1 L375.6,126.6 L376.6,129.0 L377.6,132.1 L378.6,135.2 L379.6,137.4 L380.6,140.8 L381.6,144.8 L382.6,146.7 L383.7,147.8 L384.7,149.2 L385.7,151.0 L386.7,151.9 L387.7,153.3 L388.7,154.5 L389.7,154.1 L390.7,154.2 L391.7,153.5 L392.7,153.5 L393.7,153.5 L394.7,152.0 L395.7,151.8 L396.7,151.7 L397.7,151.7 L398.7,151.9 L399.7,150.9 L400.7,149.3 L401.7,149.1 L402.7,148.5 L403.7,148.4 L404.7,149.1 L405.7,147.6 L406.8,147.3 L407.8,146.8 L408.8,147.0 L409.8,146.4 L410.8,145.8 L411.8,145.3 L412.8,145.1 L413.8,143.7 L414.8,142.9 L415.8,142.4 L416.8,142.8 L417.8,141.5 L418.8,140.2 L419.8,139.9 L420.8,140.2 L421.8,138.3 L422.8,137.4 L423.8,136.2 L424.8,134.8 L425.8,133.5 L426.8,132.7 L427.8,131.8 L428.8,130.7 L429.8,131.9 L430.8,130.8 L431.9,129.3 L432.9,128.2 L433.9,127.4 L434.9,127.5 L435.9,126.7 L436.9,126.4 L437.9,125.5 L438.9,126.4 L439.9,127.4 L440.9,127.0 L441.9,127.8 L442.9,128.4 L443.9,129.6 L444.9,131.0 L445.9,132.6 L446.9,134.7 L447.9,137.4 L448.9,139.1 L449.9,140.2 L450.9,142.0 L451.9,142.8 L452.9,142.6 L453.9,143.4 L454.9,144.8 L456.0,142.8 L457.0,140.2 L458.0,139.2 L459.0,136.0 L460.0,132.8 L461.0,130.6 L462.0,127.6 L463.0,124.8 L464.0,121.3 L465.0,117.3 L466.0,115.7 L467.0,112.2 L468.0,108.9 L469.0,104.1 L470.0,98.5 L471.0,92.8 L472.0,88.2 L473.0,84.6 L474.0,83.2 L475.0,83.4 L476.0,85.1 L477.0,88.2 L478.0,92.1 L479.0,102.3 L480.1,113.7 L481.1,124.5 L482.1,134.5 L483.1,142.5 L484.1,151.0 L485.1,156.8 L486.1,161.4 L487.1,165.0 L488.1,167.7 L489.1,169.6 L490.1,169.5 L491.1,168.8 L492.1,169.3 L493.1,170.0 L494.1,168.8 L495.1,167.8 L496.1,167.9 L497.1,168.8 L498.1,170.0 L499.1,169.8 L500.1,169.3 L501.1,169.1 L502.1,169.7 L503.1,169.8 L504.2,169.6 L505.2,169.7 L506.2,169.9 L507.2,170.6 L508.2,169.1 L509.2,169.8 L510.2,169.8 L511.2,170.5 L512.2,170.3 L513.2,170.5 L514.2,170.7 L515.2,170.7 L516.2,170.8 L517.2,170.0 L518.2,170.8 L519.2,170.6 L520.2,170.9 L521.2,171.6 L522.2,171.6 L523.2,171.5 L524.2,169.6 L525.2,170.0 L526.2,170.9 L527.2,170.2 L528.3,170.7 L529.3,171.7 L530.3,171.3 L531.3,170.4 L532.3,171.0 L533.3,171.2 L534.3,170.9 L535.3,170.8 L536.3,170.7 L537.3,170.0 L538.3,170.5 L539.3,170.2" fill="none" stroke="#7f7f0c" stroke-width="1.8" stroke-linejoin="round" stroke-linecap="round" opacity="1"/>
<path d="M298.3,103.2 L299.3,101.7 L300.3,100.5 L301.3,99.5 L302.3,100.5 L303.3,101.0 L304.3,100.2 L305.3,100.0 L306.3,99.6 L307.3,98.7 L308.3,99.5 L309.3,97.9 L310.4,98.1 L311.4,98.8 L312.4,97.3 L313.4,96.6 L314.4,96.2 L315.4,95.9 L316.4,94.7 L317.4,95.2 L318.4,96.2 L319.4,95.5 L320.4,94.9 L321.4,94.8 L322.4,94.6 L323.4,94.2 L324.4,93.8 L325.4,92.6 L326.4,93.2 L327.4,92.9 L328.4,93.3 L329.4,93.1 L330.4,92.8 L331.4,93.3 L332.4,93.6 L333.4,94.8 L334.4,95.4 L335.5,96.8 L336.5,97.6 L337.5,99.7 L338.5,100.3 L339.5,101.9 L340.5,102.4 L341.5,102.0 L342.5,102.6 L343.5,102.7 L344.5,103.3 L345.5,103.9 L346.5,103.5 L347.5,103.1 L348.5,101.7 L349.5,101.0 L350.5,100.0 L351.5,98.9 L352.5,96.9 L353.5,95.9 L354.5,94.2 L355.5,91.6 L356.5,90.0 L357.5,89.2 L358.6,87.2 L359.6,86.0 L360.6,86.0 L361.6,84.9 L362.6,83.8 L363.6,83.0 L364.6,81.9 L365.6,81.1 L366.6,80.8 L367.6,81.6 L368.6,82.8 L369.6,84.4 L370.6,87.3 L371.6,90.4 L372.6,93.2 L373.6,97.2 L374.6,101.0 L375.6,104.5 L376.6,108.7 L377.6,112.0 L378.6,115.6 L379.6,116.6 L380.6,116.0 L381.6,115.5 L382.6,116.3 L383.7,116.1 L384.7,116.2 L385.7,117.0 L386.7,117.7 L387.7,117.1 L388.7,116.6 L389.7,115.8 L390.7,115.9 L391.7,115.6 L392.7,115.9 L393.7,115.2 L394.7,114.8 L395.7,114.4 L396.7,113.9 L397.7,114.0 L398.7,113.4 L399.7,112.6 L400.7,112.5 L401.7,112.6 L402.7,112.6 L403.7,112.0 L404.7,112.0 L405.7,110.8 L406.8,110.3 L407.8,109.7 L408.8,110.2 L409.8,109.2 L410.8,108.8 L411.8,109.3 L412.8,108.4 L413.8,107.9 L414.8,108.0 L415.8,107.1 L416.8,106.6 L417.8,105.4 L418.8,105.0 L419.8,104.5 L420.8,103.6 L421.8,103.6 L422.8,102.1 L423.8,101.2 L424.8,100.7 L425.8,100.0 L426.8,98.2 L427.8,96.8 L428.8,96.0 L429.8,95.2 L430.8,93.1 L431.9,91.9 L432.9,91.9 L433.9,91.8 L434.9,91.0 L435.9,90.7 L436.9,90.0 L437.9,91.1 L438.9,92.1 L439.9,93.1 L440.9,94.0 L441.9,95.2 L442.9,96.3 L443.9,99.1 L444.9,100.7 L445.9,103.1 L446.9,105.7 L447.9,106.9 L448.9,107.1 L449.9,109.5 L450.9,110.2 L451.9,109.9 L452.9,110.0 L453.9,109.8 L454.9,109.4 L456.0,107.1 L457.0,105.9 L458.0,103.9 L459.0,100.7 L460.0,98.3 L461.0,93.7 L462.0,88.3 L463.0,85.1 L464.0,82.0 L465.0,79.0 L466.0,75.3 L467.0,71.9 L468.0,67.0 L469.0,62.0 L470.0,56.1 L471.0,52.8 L472.0,48.3 L473.0,47.9 L474.0,49.5 L475.0,53.4 L476.0,58.8 L477.0,67.0 L478.0,76.1 L479.0,86.6 L480.1,98.3 L481.1,108.6 L482.1,117.1 L483.1,122.6 L484.1,124.5 L485.1,126.4 L486.1,127.3 L487.1,128.5 L488.1,130.2 L489.1,130.2 L490.1,130.5 L491.1,130.6 L492.1,131.5 L493.1,131.6 L494.1,130.6 L495.1,130.6 L496.1,130.8 L497.1,131.9 L498.1,132.0 L499.1,131.6 L500.1,132.5 L501.1,131.5 L502.1,130.5 L503.1,130.2 L504.2,131.2 L505.2,131.6 L506.2,131.4 L507.2,131.9 L508.2,132.4 L509.2,132.0 L510.2,132.5 L511.2,132.9 L512.2,132.4 L513.2,131.8 L514.2,132.3 L515.2,132.8 L516.2,133.3 L517.2,132.1 L518.2,131.5 L519.2,132.4 L520.2,132.6 L521.2,132.4 L522.2,132.9 L523.2,133.0 L524.2,133.3 L525.2,132.4 L526.2,132.3 L527.2,132.7 L528.3,132.9 L529.3,133.7 L530.3,133.6 L531.3,133.4 L532.3,134.1 L533.3,133.9 L534.3,134.1 L535.3,134.0 L536.3,133.5 L537.3,133.5 L538.3,133.5 L539.3,133.0" fill="none" stroke="#1212e6" stroke-width="2.0" stroke-linejoin="round" stroke-linecap="round" opacity="1"/>
<line x1="366.9" y1="73.5" x2="366.9" y2="77" stroke="#1212e6" stroke-width="1.4"/>
<line x1="473.6" y1="35.5" x2="473.6" y2="47" stroke="#1212e6" stroke-width="1.2" stroke-dasharray="1.5,1.5"/>
<line x1="474.5" y1="63" x2="474.5" y2="78" stroke="#ee1d24" stroke-width="0.9" stroke-dasharray="1.5,1.5"/>
<line x1="475.5" y1="84" x2="475.5" y2="95" stroke="#7f7f0c" stroke-width="0.9" stroke-dasharray="1.5,1.5"/>
<line x1="368.2" y1="101" x2="368.2" y2="112" stroke="#ee1d24" stroke-width="0.9" stroke-dasharray="1.5,1.5"/>
<line x1="369.5" y1="118" x2="369.5" y2="125" stroke="#7f7f0c" stroke-width="0.9" stroke-dasharray="1.5,1.5"/>
<line x1="371" y1="127" x2="371" y2="137" stroke="#3c3c3c" stroke-width="0.9" stroke-dasharray="1.5,1.5"/>
<line x1="476.5" y1="95" x2="476.5" y2="110" stroke="#3c3c3c" stroke-width="0.9" stroke-dasharray="1.5,1.5"/>
<text x="305.0" y="34.6" font-size="13.4" fill="#1b871b" text-anchor="start" font-family="&quot;Liberation Sans&quot;, sans-serif" font-weight="bold" >Ni 2P</text>
<text x="344.9" y="65.7" font-size="10.2" fill="#1b871b" text-anchor="start" font-family="&quot;Liberation Sans&quot;, sans-serif" font-weight="bold" >Ni 2p 1/2</text>
<text x="299.8" y="87.5" font-size="10.2" fill="#1b871b" text-anchor="start" font-family="&quot;Liberation Sans&quot;, sans-serif" font-weight="bold" >Ni 2p 1/2 sat.</text>
<text x="395.5" y="88.2" font-size="10.2" fill="#1b871b" text-anchor="start" font-family="&quot;Liberation Sans&quot;, sans-serif" font-weight="bold" >Ni 2p 3/2 sat</text>
<text x="425.5" y="57.3" font-size="10.3" fill="#1b871b" text-anchor="start" font-family="&quot;Liberation Sans&quot;, sans-serif" font-weight="bold" >Ni 2p 3/2</text>
<text x="369.1" y="77.6" font-size="9.5" fill="#1212e6" text-anchor="start" font-family="&quot;Liberation Sans&quot;, sans-serif" font-weight="bold" >873.6 ev</text>
<text x="377.3" y="106.6" font-size="9.5" fill="#ee1d24" text-anchor="start" font-family="&quot;Liberation Sans&quot;, sans-serif" font-weight="bold" >873.5 ev</text>
<text x="375.0" y="127.9" font-size="9.5" fill="#7f7f0c" text-anchor="start" font-family="&quot;Liberation Sans&quot;, sans-serif" font-weight="bold" >873.4 ev</text>
<text x="378.0" y="137.2" font-size="9.5" fill="#1a1a1a" text-anchor="start" font-family="&quot;Liberation Sans&quot;, sans-serif" font-weight="bold" >873.2 ev</text>
<text x="478.7" y="54.9" font-size="9.5" fill="#1212e6" text-anchor="start" font-family="&quot;Liberation Sans&quot;, sans-serif" font-weight="bold" >856.0 ev</text>
<text x="480.0" y="72.7" font-size="9.5" fill="#ee1d24" text-anchor="start" font-family="&quot;Liberation Sans&quot;, sans-serif" font-weight="bold" >855.9 ev</text>
<text x="482.7" y="90.0" font-size="9.5" fill="#7f7f0c" text-anchor="start" font-family="&quot;Liberation Sans&quot;, sans-serif" font-weight="bold" >855.8 ev</text>
<text x="483.6" y="105.5" font-size="9.5" fill="#1a1a1a" text-anchor="start" font-family="&quot;Liberation Sans&quot;, sans-serif" font-weight="bold" >855.6 ev</text>
<line x1="300.4" y1="158.7" x2="322.6" y2="158.7" stroke="#6a6a6a" stroke-width="2.0"/>
<text x="324.6" y="161.5" font-size="7.7" fill="#222" text-anchor="start" font-family="&quot;Liberation Sans&quot;, sans-serif" font-weight="bold" >NCM811</text>
<line x1="300.4" y1="167.2" x2="322.6" y2="167.2" stroke="#7f7f0c" stroke-width="2.0"/>
<text x="324.6" y="170.0" font-size="7.7" fill="#7f7f0c" text-anchor="start" font-family="&quot;Liberation Sans&quot;, sans-serif" font-weight="bold" >10 Al<tspan dy="2.6" dx="0.4" font-size="5.2">2</tspan><tspan dy="-2.6" dx="0.2">O</tspan><tspan dy="2.6" dx="0.2" font-size="5.2">3</tspan><tspan dy="-2.6" dx="0.2"> ALD NCM811</tspan></text>
<line x1="300.4" y1="176.2" x2="322.6" y2="176.2" stroke="#ee1d24" stroke-width="2.0"/>
<text x="324.6" y="179.0" font-size="7.7" fill="#ee1d24" text-anchor="start" font-family="&quot;Liberation Sans&quot;, sans-serif" font-weight="bold" >20 Al<tspan dy="2.6" dx="0.4" font-size="5.2">2</tspan><tspan dy="-2.6" dx="0.2">O</tspan><tspan dy="2.6" dx="0.2" font-size="5.2">3</tspan><tspan dy="-2.6" dx="0.2"> ALD NCM811</tspan></text>
<line x1="300.4" y1="184.7" x2="322.6" y2="184.7" stroke="#1212e6" stroke-width="2.0"/>
<text x="324.6" y="187.5" font-size="7.7" fill="#1212e6" text-anchor="start" font-family="&quot;Liberation Sans&quot;, sans-serif" font-weight="bold" >50 Al<tspan dy="2.6" dx="0.4" font-size="5.2">2</tspan><tspan dy="-2.6" dx="0.2">O</tspan><tspan dy="2.6" dx="0.2" font-size="5.2">3</tspan><tspan dy="-2.6" dx="0.2"> ALD NCM811</tspan></text>
<path d="M298.3,17.3 H539.3 V192.4 H298.3 Z" fill="none" stroke="#111" stroke-width="1.65" stroke-linejoin="miter"/>
<text x="7.3" y="234.6" font-size="12.7" fill="#111" text-anchor="start" font-family="&quot;Liberation Sans&quot;, sans-serif" font-weight="bold" >(c)</text>
<text x="0" y="0" font-size="12.8" fill="#111" text-anchor="middle" font-family="&quot;Liberation Sans&quot;, sans-serif" font-weight="bold" transform="translate(18.1,332.4) rotate(-90)">Intensity (a.u.)</text>
<text x="148.3" y="443.3" font-size="12.6" fill="#111" text-anchor="middle" font-family="&quot;Liberation Sans&quot;, sans-serif" font-weight="bold" >Binding Energy (eV)</text>
<line x1="263.00" y1="413.0" x2="263.00" y2="417.2" stroke="#111" stroke-width="1.4"/>
<text x="263.00" y="427" font-size="8.8" fill="#1a1a1a" text-anchor="middle" font-family="&quot;Liberation Sans&quot;, sans-serif" font-weight="bold" >775</text>
<line x1="243.16" y1="413.0" x2="243.16" y2="415.6" stroke="#111" stroke-width="1.4"/>
<line x1="223.32" y1="413.0" x2="223.32" y2="417.2" stroke="#111" stroke-width="1.4"/>
<text x="223.32" y="427" font-size="8.8" fill="#1a1a1a" text-anchor="middle" font-family="&quot;Liberation Sans&quot;, sans-serif" font-weight="bold" >780</text>
<line x1="203.47" y1="413.0" x2="203.47" y2="415.6" stroke="#111" stroke-width="1.4"/>
<line x1="183.63" y1="413.0" x2="183.63" y2="417.2" stroke="#111" stroke-width="1.4"/>
<text x="183.63" y="427" font-size="8.8" fill="#1a1a1a" text-anchor="middle" font-family="&quot;Liberation Sans&quot;, sans-serif" font-weight="bold" >785</text>
<line x1="163.79" y1="413.0" x2="163.79" y2="415.6" stroke="#111" stroke-width="1.4"/>
<line x1="143.95" y1="413.0" x2="143.95" y2="417.2" stroke="#111" stroke-width="1.4"/>
<text x="143.95" y="427" font-size="8.8" fill="#1a1a1a" text-anchor="middle" font-family="&quot;Liberation Sans&quot;, sans-serif" font-weight="bold" >790</text>
<line x1="124.11" y1="413.0" x2="124.11" y2="415.6" stroke="#111" stroke-width="1.4"/>
<line x1="104.27" y1="413.0" x2="104.27" y2="417.2" stroke="#111" stroke-width="1.4"/>
<text x="104.27" y="427" font-size="8.8" fill="#1a1a1a" text-anchor="middle" font-family="&quot;Liberation Sans&quot;, sans-serif" font-weight="bold" >795</text>
<line x1="84.42" y1="413.0" x2="84.42" y2="415.6" stroke="#111" stroke-width="1.4"/>
<line x1="64.58" y1="413.0" x2="64.58" y2="417.2" stroke="#111" stroke-width="1.4"/>
<text x="64.58" y="427" font-size="8.8" fill="#1a1a1a" text-anchor="middle" font-family="&quot;Liberation Sans&quot;, sans-serif" font-weight="bold" >800</text>
<line x1="44.74" y1="413.0" x2="44.74" y2="415.6" stroke="#111" stroke-width="1.4"/>
<line x1="24.90" y1="413.0" x2="24.90" y2="417.2" stroke="#111" stroke-width="1.4"/>
<text x="24.90" y="427" font-size="8.8" fill="#1a1a1a" text-anchor="middle" font-family="&quot;Liberation Sans&quot;, sans-serif" font-weight="bold" >805</text>
<path d="M25.2,364.7 L26.0,369.4 L26.7,354.4 L27.5,369.4 L28.2,361.4 L29.0,357.7 L29.7,357.3 L30.5,355.8 L31.2,359.4 L32.0,363.8 L32.7,362.5 L33.5,362.6 L34.2,352.1 L35.0,352.6 L35.7,366.3 L36.5,363.7 L37.2,369.0 L38.0,364.6 L38.7,354.6 L39.5,364.7 L40.2,361.8 L41.0,359.9 L41.7,355.3 L42.5,358.9 L43.2,358.3 L44.0,362.9 L44.7,359.7 L45.5,366.2 L46.2,356.0 L47.0,361.7 L47.7,362.1 L48.5,356.3 L49.2,355.2 L50.0,365.2 L50.7,363.3 L51.5,360.5 L52.2,363.2 L53.0,358.8 L53.7,363.2 L54.5,359.9 L55.2,363.9 L56.0,367.8 L56.7,362.4 L57.5,368.0 L58.2,360.1 L59.0,363.7 L59.7,359.2 L60.5,364.9 L61.2,365.8 L62.0,364.6 L62.7,364.1 L63.5,371.0 L64.2,371.1 L65.0,359.0 L65.7,369.1 L66.5,355.9 L67.2,359.8 L68.0,361.9 L68.7,362.8 L69.5,357.3 L70.2,358.5 L71.0,361.8 L71.7,358.2 L72.5,358.1 L73.2,363.1 L74.0,363.3 L74.7,357.8 L75.5,357.1 L76.2,356.0 L77.0,353.2 L77.7,352.1 L78.5,348.9 L79.2,355.6 L80.0,351.7 L80.7,350.9 L81.5,351.8 L82.2,352.8 L83.0,356.3 L83.7,348.5 L84.5,347.6 L85.2,350.1 L86.0,345.2 L86.7,354.2 L87.5,352.2 L88.2,350.4 L89.0,345.9 L89.7,348.7 L90.5,348.9 L91.2,345.4 L92.0,340.7 L92.7,333.3 L93.5,343.4 L94.2,336.0 L95.0,332.5 L95.7,339.5 L96.5,337.3 L97.2,330.5 L98.0,337.6 L98.7,338.2 L99.5,345.0 L100.2,333.5 L101.0,341.7 L101.7,344.7 L102.5,354.2 L103.2,344.5 L104.0,337.5 L104.7,347.5 L105.5,358.4 L106.2,363.5 L107.0,370.3 L107.7,364.4 L108.5,359.0 L109.2,369.4 L110.0,365.2 L110.7,364.7 L111.5,366.4 L112.2,373.9 L113.0,361.7 L113.7,361.2 L114.5,367.0 L115.2,367.2 L116.0,363.1 L116.7,362.8 L117.5,370.2 L118.2,375.7 L119.0,372.1 L119.7,371.8 L120.5,374.8 L121.2,355.9 L122.0,358.4 L122.7,362.8 L123.5,359.8 L124.2,360.7 L125.0,366.6 L125.7,358.7 L126.5,363.4 L127.2,354.2 L128.0,360.4 L128.7,373.8 L129.5,363.1 L130.2,368.2 L131.0,370.5 L131.7,363.7 L132.5,370.0 L133.2,368.1 L134.0,371.1 L134.7,363.5 L135.5,359.0 L136.2,361.6 L137.0,364.5 L137.7,371.1 L138.5,367.1 L139.2,366.3 L140.0,367.9 L140.7,375.5 L141.5,366.3 L142.2,378.5 L143.0,363.1 L143.7,367.0 L144.5,375.6 L145.2,373.8 L146.0,366.0 L146.7,370.3 L147.5,366.9 L148.2,375.7 L149.0,373.6 L149.7,366.0 L150.5,371.9 L151.2,367.1 L152.0,368.4 L152.7,368.8 L153.5,364.9 L154.2,370.5 L155.0,370.7 L155.7,370.6 L156.5,374.6 L157.2,366.9 L158.0,360.1 L158.7,366.0 L159.5,370.3 L160.2,369.5 L161.0,373.0 L161.7,374.4 L162.5,369.3 L163.2,369.3 L164.0,364.3 L164.7,375.7 L165.5,367.9 L166.2,362.6 L167.0,361.7 L167.7,365.1 L168.5,375.7 L169.2,370.3 L170.0,355.3 L170.7,363.6 L171.5,365.2 L172.2,366.7 L173.0,364.6 L173.7,358.6 L174.5,364.3 L175.2,358.4 L176.0,348.4 L176.7,356.9 L177.5,356.8 L178.2,366.0 L179.0,366.3 L179.7,353.9 L180.5,360.6 L181.2,359.8 L182.0,350.6 L182.7,346.6 L183.5,357.3 L184.2,358.1 L185.0,353.3 L185.7,340.7 L186.5,355.8 L187.2,352.7 L188.0,351.0 L188.7,354.5 L189.5,350.2 L190.2,360.1 L191.0,357.1 L191.7,353.0 L192.5,354.8 L193.2,349.7 L194.0,338.8 L194.7,342.3 L195.5,336.9 L196.2,327.1 L197.0,328.5 L197.7,331.0 L198.5,326.0 L199.2,333.4 L200.0,333.8 L200.7,326.1 L201.5,328.9 L202.2,334.1 L203.0,329.3 L203.7,330.1 L204.5,331.7 L205.2,328.5 L206.0,327.4 L206.7,330.3 L207.5,327.4 L208.2,327.5 L209.0,326.4 L209.7,321.5 L210.5,321.6 L211.2,320.0 L212.0,317.6 L212.7,315.9 L213.5,317.2 L214.2,313.3 L215.0,309.9 L215.7,305.1 L216.5,302.9 L217.2,296.5 L218.0,301.2 L218.7,305.9 L219.5,308.9 L220.2,314.3 L221.0,313.1 L221.7,317.3 L222.5,323.0 L223.2,329.9 L224.0,334.1 L224.7,331.3 L225.5,336.7 L226.2,338.5 L227.0,347.2 L227.7,349.7 L228.5,349.3 L229.2,350.2 L230.0,356.2 L230.7,361.4 L231.5,353.6 L232.2,357.1 L233.0,360.6 L233.7,361.0 L234.5,363.6 L235.2,356.7 L236.0,359.7 L236.7,352.0 L237.5,365.5 L238.2,372.6 L239.0,355.9 L239.7,365.0 L240.5,374.2 L241.2,367.7 L242.0,356.7 L242.7,373.2 L243.5,357.6 L244.2,373.5 L245.0,362.5 L245.7,362.2 L246.5,366.9 L247.2,367.3 L248.0,371.5 L248.7,371.5 L249.5,368.2 L250.2,377.0 L251.0,373.9 L251.7,371.7 L252.5,371.2 L253.2,370.1 L254.0,370.6 L254.7,375.2 L255.5,374.5 L256.2,372.3 L257.0,378.2 L257.7,371.1 L258.5,375.1 L259.2,377.1 L260.0,365.1 L260.7,368.9 L261.5,378.8 L262.2,362.2 L263.0,372.6" fill="none" stroke="#0c0c0c" stroke-width="2.0" stroke-linejoin="round" stroke-linecap="round" opacity="1"/>
<path d="M25.2,347.9 L26.0,347.8 L26.7,347.3 L27.5,348.3 L28.2,351.9 L29.0,345.9 L29.7,350.5 L30.5,350.9 L31.2,347.6 L32.0,346.8 L32.7,349.0 L33.5,350.5 L34.2,352.3 L35.0,349.9 L35.7,351.3 L36.5,347.6 L37.2,346.9 L38.0,345.5 L38.7,346.9 L39.5,348.8 L40.2,350.2 L41.0,347.6 L41.7,351.9 L42.5,350.4 L43.2,349.5 L44.0,349.5 L44.7,355.1 L45.5,351.7 L46.2,349.8 L47.0,349.9 L47.7,355.4 L48.5,351.0 L49.2,354.5 L50.0,355.0 L50.7,347.9 L51.5,354.9 L52.2,352.0 L53.0,350.3 L53.7,351.3 L54.5,353.4 L55.2,353.1 L56.0,353.1 L56.7,350.9 L57.5,354.8 L58.2,355.2 L59.0,355.8 L59.7,354.2 L60.5,355.8 L61.2,356.2 L62.0,353.4 L62.7,353.5 L63.5,352.7 L64.2,352.3 L65.0,352.5 L65.7,347.1 L66.5,349.4 L67.2,350.6 L68.0,345.2 L68.7,346.3 L69.5,351.9 L70.2,346.7 L71.0,347.6 L71.7,349.0 L72.5,347.2 L73.2,346.3 L74.0,346.8 L74.7,346.8 L75.5,346.3 L76.2,347.6 L77.0,350.2 L77.7,347.6 L78.5,349.7 L79.2,347.8 L80.0,347.6 L80.7,346.8 L81.5,344.8 L82.2,345.8 L83.0,345.2 L83.7,342.1 L84.5,345.2 L85.2,344.4 L86.0,343.4 L86.7,341.2 L87.5,337.5 L88.2,343.2 L89.0,340.4 L89.7,337.1 L90.5,339.8 L91.2,337.5 L92.0,337.7 L92.7,335.7 L93.5,335.7 L94.2,334.0 L95.0,333.2 L95.7,332.5 L96.5,333.2 L97.2,331.3 L98.0,334.8 L98.7,335.5 L99.5,335.6 L100.2,337.6 L101.0,338.4 L101.7,340.3 L102.5,342.7 L103.2,341.4 L104.0,344.9 L104.7,346.4 L105.5,347.0 L106.2,349.7 L107.0,347.6 L107.7,350.1 L108.5,354.4 L109.2,350.5 L110.0,350.7 L110.7,351.5 L111.5,353.2 L112.2,351.3 L113.0,352.4 L113.7,349.8 L114.5,351.3 L115.2,351.4 L116.0,351.0 L116.7,352.1 L117.5,353.8 L118.2,351.2 L119.0,348.9 L119.7,351.5 L120.5,351.1 L121.2,347.8 L122.0,350.4 L122.7,347.8 L123.5,348.4 L124.2,348.1 L125.0,351.0 L125.7,347.9 L126.5,349.0 L127.2,350.2 L128.0,352.0 L128.7,352.5 L129.5,348.5 L130.2,352.9 L131.0,351.4 L131.7,353.3 L132.5,353.1 L133.2,350.1 L134.0,351.1 L134.7,350.5 L135.5,351.9 L136.2,354.3 L137.0,351.2 L137.7,349.9 L138.5,356.0 L139.2,349.3 L140.0,351.1 L140.7,351.0 L141.5,348.7 L142.2,352.6 L143.0,353.2 L143.7,351.0 L144.5,351.2 L145.2,350.7 L146.0,347.7 L146.7,351.6 L147.5,348.9 L148.2,349.5 L149.0,352.3 L149.7,353.4 L150.5,350.2 L151.2,354.1 L152.0,355.5 L152.7,352.5 L153.5,352.1 L154.2,352.6 L155.0,351.5 L155.7,350.7 L156.5,353.5 L157.2,353.7 L158.0,351.2 L158.7,351.3 L159.5,350.8 L160.2,350.6 L161.0,349.9 L161.7,348.9 L162.5,353.4 L163.2,350.9 L164.0,351.6 L164.7,354.8 L165.5,350.4 L166.2,352.2 L167.0,348.5 L167.7,349.7 L168.5,352.2 L169.2,350.3 L170.0,347.9 L170.7,347.6 L171.5,351.1 L172.2,348.6 L173.0,351.6 L173.7,350.7 L174.5,349.5 L175.2,349.8 L176.0,351.2 L176.7,349.6 L177.5,347.5 L178.2,349.7 L179.0,348.2 L179.7,348.1 L180.5,349.4 L181.2,348.6 L182.0,349.5 L182.7,346.8 L183.5,345.9 L184.2,345.7 L185.0,346.6 L185.7,344.0 L186.5,344.3 L187.2,342.9 L188.0,342.5 L188.7,343.1 L189.5,347.3 L190.2,341.3 L191.0,341.6 L191.7,340.5 L192.5,339.2 L193.2,338.9 L194.0,341.7 L194.7,336.8 L195.5,339.4 L196.2,336.9 L197.0,333.5 L197.7,333.3 L198.5,333.1 L199.2,331.8 L200.0,334.4 L200.7,332.7 L201.5,331.9 L202.2,329.2 L203.0,329.9 L203.7,327.9 L204.5,329.7 L205.2,326.1 L206.0,325.1 L206.7,323.6 L207.5,320.9 L208.2,318.9 L209.0,316.5 L209.7,314.9 L210.5,310.5 L211.2,307.9 L212.0,305.2 L212.7,301.1 L213.5,296.9 L214.2,294.0 L215.0,292.2 L215.7,292.3 L216.5,295.6 L217.2,294.5 L218.0,292.6 L218.7,292.5 L219.5,297.1 L220.2,299.7 L221.0,302.5 L221.7,306.4 L222.5,312.6 L223.2,313.1 L224.0,316.1 L224.7,321.4 L225.5,324.6 L226.2,328.2 L227.0,335.5 L227.7,336.7 L228.5,341.0 L229.2,341.1 L230.0,346.4 L230.7,345.3 L231.5,350.4 L232.2,347.3 L233.0,347.7 L233.7,345.0 L234.5,345.3 L235.2,346.9 L236.0,349.7 L236.7,346.3 L237.5,344.0 L238.2,350.2 L239.0,350.6 L239.7,347.3 L240.5,350.0 L241.2,351.5 L242.0,351.7 L242.7,346.7 L243.5,349.7 L244.2,348.4 L245.0,351.7 L245.7,350.2 L246.5,347.8 L247.2,350.4 L248.0,351.3 L248.7,347.4 L249.5,347.8 L250.2,349.2 L251.0,350.0 L251.7,349.5 L252.5,347.2 L253.2,347.8 L254.0,350.7 L254.7,351.7 L255.5,349.3 L256.2,351.4 L257.0,354.7 L257.7,350.8 L258.5,350.4 L259.2,350.0 L260.0,352.2 L260.7,351.9 L261.5,351.9 L262.2,350.8 L263.0,352.3" fill="none" stroke="#7f7f0c" stroke-width="1.9" stroke-linejoin="round" stroke-linecap="round" opacity="1"/>
<path d="M25.2,336.8 L26.0,336.3 L26.7,335.8 L27.5,331.2 L28.2,337.2 L29.0,332.0 L29.7,338.7 L30.5,338.3 L31.2,339.0 L32.0,339.0 L32.7,337.9 L33.5,336.1 L34.2,336.7 L35.0,340.6 L35.7,336.1 L36.5,336.8 L37.2,335.7 L38.0,336.1 L38.7,336.6 L39.5,337.8 L40.2,336.7 L41.0,336.5 L41.7,335.9 L42.5,337.4 L43.2,334.4 L44.0,337.4 L44.7,340.2 L45.5,335.8 L46.2,337.5 L47.0,343.8 L47.7,335.6 L48.5,334.2 L49.2,337.0 L50.0,342.0 L50.7,342.6 L51.5,335.6 L52.2,339.5 L53.0,338.3 L53.7,337.0 L54.5,334.2 L55.2,340.7 L56.0,336.8 L56.7,339.3 L57.5,339.0 L58.2,343.0 L59.0,341.5 L59.7,336.5 L60.5,338.5 L61.2,341.4 L62.0,336.4 L62.7,338.5 L63.5,340.0 L64.2,336.1 L65.0,337.0 L65.7,336.2 L66.5,340.7 L67.2,339.0 L68.0,342.4 L68.7,340.7 L69.5,341.7 L70.2,340.4 L71.0,342.1 L71.7,340.0 L72.5,337.6 L73.2,341.8 L74.0,341.0 L74.7,343.2 L75.5,337.5 L76.2,336.0 L77.0,333.6 L77.7,327.9 L78.5,333.1 L79.2,336.7 L80.0,333.2 L80.7,329.0 L81.5,335.5 L82.2,332.5 L83.0,332.4 L83.7,331.7 L84.5,331.9 L85.2,332.7 L86.0,327.7 L86.7,330.2 L87.5,329.3 L88.2,331.3 L89.0,326.9 L89.7,329.3 L90.5,325.8 L91.2,324.8 L92.0,319.8 L92.7,318.4 L93.5,314.9 L94.2,310.4 L95.0,310.7 L95.7,311.4 L96.5,313.1 L97.2,315.9 L98.0,318.8 L98.7,323.5 L99.5,326.6 L100.2,326.9 L101.0,327.1 L101.7,331.9 L102.5,331.4 L103.2,333.6 L104.0,334.7 L104.7,335.4 L105.5,339.0 L106.2,337.7 L107.0,339.9 L107.7,337.6 L108.5,337.9 L109.2,341.3 L110.0,346.9 L110.7,343.8 L111.5,348.0 L112.2,345.3 L113.0,345.5 L113.7,343.5 L114.5,345.0 L115.2,349.0 L116.0,347.6 L116.7,343.4 L117.5,343.5 L118.2,347.2 L119.0,343.0 L119.7,345.6 L120.5,341.2 L121.2,343.9 L122.0,345.3 L122.7,343.3 L123.5,341.6 L124.2,341.3 L125.0,340.8 L125.7,341.0 L126.5,343.6 L127.2,343.6 L128.0,341.9 L128.7,338.3 L129.5,339.9 L130.2,341.7 L131.0,341.2 L131.7,338.1 L132.5,342.6 L133.2,346.8 L134.0,338.5 L134.7,341.3 L135.5,344.6 L136.2,340.2 L137.0,340.2 L137.7,341.5 L138.5,342.3 L139.2,340.3 L140.0,343.2 L140.7,337.0 L141.5,342.5 L142.2,341.9 L143.0,340.8 L143.7,341.9 L144.5,341.3 L145.2,344.0 L146.0,340.3 L146.7,341.2 L147.5,338.4 L148.2,339.2 L149.0,341.3 L149.7,338.7 L150.5,340.4 L151.2,339.6 L152.0,341.6 L152.7,343.2 L153.5,345.1 L154.2,339.0 L155.0,342.9 L155.7,345.4 L156.5,346.5 L157.2,346.5 L158.0,340.4 L158.7,342.3 L159.5,344.8 L160.2,345.6 L161.0,344.2 L161.7,344.2 L162.5,344.1 L163.2,341.9 L164.0,343.9 L164.7,345.4 L165.5,342.9 L166.2,346.1 L167.0,337.4 L167.7,342.5 L168.5,346.4 L169.2,343.9 L170.0,344.2 L170.7,340.4 L171.5,336.8 L172.2,337.8 L173.0,341.7 L173.7,334.1 L174.5,335.6 L175.2,333.7 L176.0,336.0 L176.7,336.0 L177.5,337.8 L178.2,334.4 L179.0,339.3 L179.7,336.1 L180.5,332.5 L181.2,330.2 L182.0,328.1 L182.7,330.9 L183.5,334.4 L184.2,329.7 L185.0,328.0 L185.7,330.5 L186.5,329.9 L187.2,329.3 L188.0,327.3 L188.7,331.1 L189.5,334.1 L190.2,332.9 L191.0,331.5 L191.7,329.0 L192.5,328.3 L193.2,327.8 L194.0,324.0 L194.7,323.7 L195.5,321.9 L196.2,324.8 L197.0,320.6 L197.7,323.4 L198.5,323.2 L199.2,322.3 L200.0,321.0 L200.7,317.9 L201.5,316.0 L202.2,314.4 L203.0,313.0 L203.7,311.2 L204.5,311.4 L205.2,310.3 L206.0,308.7 L206.7,307.1 L207.5,301.4 L208.2,295.7 L209.0,295.3 L209.7,294.1 L210.5,289.2 L211.2,286.4 L212.0,281.6 L212.7,280.4 L213.5,277.9 L214.2,276.3 L215.0,273.8 L215.7,271.7 L216.5,270.2 L217.2,268.3 L218.0,269.4 L218.7,273.8 L219.5,279.2 L220.2,285.7 L221.0,293.8 L221.7,300.4 L222.5,308.3 L223.2,314.3 L224.0,322.3 L224.7,326.4 L225.5,333.7 L226.2,335.0 L227.0,334.9 L227.7,337.2 L228.5,339.2 L229.2,339.1 L230.0,337.9 L230.7,339.7 L231.5,340.7 L232.2,336.6 L233.0,336.4 L233.7,338.7 L234.5,342.6 L235.2,344.0 L236.0,341.3 L236.7,344.4 L237.5,343.4 L238.2,341.0 L239.0,339.5 L239.7,339.7 L240.5,341.3 L241.2,344.3 L242.0,343.0 L242.7,338.2 L243.5,338.4 L244.2,342.9 L245.0,341.6 L245.7,339.1 L246.5,342.7 L247.2,344.4 L248.0,343.3 L248.7,342.1 L249.5,345.0 L250.2,341.6 L251.0,341.5 L251.7,341.2 L252.5,347.8 L253.2,348.7 L254.0,344.2 L254.7,345.8 L255.5,345.7 L256.2,347.0 L257.0,347.8 L257.7,346.8 L258.5,345.3 L259.2,344.5 L260.0,343.5 L260.7,340.2 L261.5,345.8 L262.2,344.5 L263.0,346.5" fill="none" stroke="#ee1d24" stroke-width="1.9" stroke-linejoin="round" stroke-linecap="round" opacity="1"/>
<path d="M25.2,317.0 L26.0,314.9 L26.7,311.9 L27.5,314.1 L28.2,314.0 L29.0,314.4 L29.7,316.4 L30.5,312.5 L31.2,317.5 L32.0,313.2 L32.7,315.3 L33.5,317.9 L34.2,317.5 L35.0,314.8 L35.7,320.2 L36.5,317.4 L37.2,314.7 L38.0,316.9 L38.7,315.2 L39.5,318.0 L40.2,314.4 L41.0,318.3 L41.7,313.7 L42.5,319.8 L43.2,318.2 L44.0,320.3 L44.7,315.7 L45.5,312.4 L46.2,313.8 L47.0,316.1 L47.7,320.6 L48.5,317.5 L49.2,318.7 L50.0,313.8 L50.7,314.4 L51.5,314.8 L52.2,318.0 L53.0,314.4 L53.7,315.2 L54.5,319.6 L55.2,314.6 L56.0,316.7 L56.7,314.3 L57.5,317.1 L58.2,319.9 L59.0,321.1 L59.7,315.8 L60.5,313.8 L61.2,320.8 L62.0,323.5 L62.7,318.7 L63.5,320.8 L64.2,320.3 L65.0,315.4 L65.7,314.0 L66.5,319.3 L67.2,320.0 L68.0,315.2 L68.7,317.1 L69.5,315.6 L70.2,314.7 L71.0,313.7 L71.7,318.7 L72.5,316.0 L73.2,315.1 L74.0,314.3 L74.7,315.9 L75.5,313.7 L76.2,314.8 L77.0,312.4 L77.7,314.4 L78.5,312.7 L79.2,314.0 L80.0,308.7 L80.7,309.5 L81.5,307.8 L82.2,313.0 L83.0,307.6 L83.7,308.1 L84.5,303.9 L85.2,305.0 L86.0,303.2 L86.7,305.8 L87.5,303.7 L88.2,307.3 L89.0,302.7 L89.7,304.7 L90.5,302.3 L91.2,302.2 L92.0,299.4 L92.7,299.0 L93.5,297.9 L94.2,297.1 L95.0,299.5 L95.7,298.7 L96.5,301.5 L97.2,303.1 L98.0,304.9 L98.7,304.7 L99.5,307.6 L100.2,306.9 L101.0,308.0 L101.7,308.4 L102.5,310.2 L103.2,312.6 L104.0,318.4 L104.7,308.1 L105.5,316.3 L106.2,317.2 L107.0,319.2 L107.7,317.2 L108.5,318.2 L109.2,321.6 L110.0,318.5 L110.7,319.0 L111.5,319.0 L112.2,320.5 L113.0,323.7 L113.7,318.5 L114.5,323.2 L115.2,316.3 L116.0,322.6 L116.7,321.0 L117.5,324.6 L118.2,323.4 L119.0,322.9 L119.7,321.9 L120.5,320.8 L121.2,315.4 L122.0,319.9 L122.7,316.0 L123.5,320.7 L124.2,316.7 L125.0,317.8 L125.7,316.6 L126.5,317.6 L127.2,317.7 L128.0,318.2 L128.7,314.3 L129.5,320.1 L130.2,314.3 L131.0,316.0 L131.7,310.6 L132.5,317.0 L133.2,318.5 L134.0,319.1 L134.7,317.6 L135.5,317.6 L136.2,315.3 L137.0,316.0 L137.7,316.7 L138.5,317.6 L139.2,315.2 L140.0,317.0 L140.7,319.2 L141.5,318.6 L142.2,318.1 L143.0,316.8 L143.7,319.2 L144.5,319.1 L145.2,321.9 L146.0,318.8 L146.7,320.7 L147.5,315.9 L148.2,322.4 L149.0,315.7 L149.7,318.4 L150.5,317.8 L151.2,317.3 L152.0,317.8 L152.7,317.4 L153.5,318.8 L154.2,319.2 L155.0,321.1 L155.7,321.4 L156.5,322.5 L157.2,319.7 L158.0,317.1 L158.7,324.0 L159.5,320.3 L160.2,313.8 L161.0,321.0 L161.7,319.3 L162.5,318.2 L163.2,318.5 L164.0,319.9 L164.7,318.1 L165.5,320.2 L166.2,319.1 L167.0,318.7 L167.7,319.6 L168.5,318.9 L169.2,321.0 L170.0,318.1 L170.7,314.4 L171.5,316.1 L172.2,319.4 L173.0,319.2 L173.7,313.6 L174.5,316.6 L175.2,314.1 L176.0,314.4 L176.7,311.5 L177.5,311.3 L178.2,314.2 L179.0,315.3 L179.7,315.8 L180.5,312.8 L181.2,314.0 L182.0,314.6 L182.7,313.7 L183.5,307.4 L184.2,310.4 L185.0,312.1 L185.7,312.2 L186.5,308.2 L187.2,311.3 L188.0,301.8 L188.7,309.9 L189.5,305.0 L190.2,306.0 L191.0,303.7 L191.7,303.0 L192.5,304.8 L193.2,305.4 L194.0,302.8 L194.7,306.6 L195.5,303.7 L196.2,304.0 L197.0,301.5 L197.7,300.8 L198.5,301.1 L199.2,298.0 L200.0,300.4 L200.7,296.2 L201.5,297.2 L202.2,293.6 L203.0,293.4 L203.7,291.7 L204.5,292.7 L205.2,291.8 L206.0,287.9 L206.7,286.8 L207.5,282.6 L208.2,279.6 L209.0,279.1 L209.7,279.7 L210.5,277.3 L211.2,273.9 L212.0,273.5 L212.7,268.4 L213.5,263.2 L214.2,262.0 L215.0,260.7 L215.7,258.8 L216.5,264.0 L217.2,263.8 L218.0,261.3 L218.7,263.1 L219.5,272.0 L220.2,277.6 L221.0,284.1 L221.7,289.4 L222.5,291.0 L223.2,295.5 L224.0,298.0 L224.7,300.9 L225.5,304.8 L226.2,303.7 L227.0,309.4 L227.7,310.6 L228.5,313.2 L229.2,313.3 L230.0,311.7 L230.7,312.3 L231.5,311.9 L232.2,317.1 L233.0,313.6 L233.7,316.0 L234.5,315.1 L235.2,311.5 L236.0,315.5 L236.7,316.2 L237.5,320.1 L238.2,316.8 L239.0,315.2 L239.7,317.0 L240.5,320.7 L241.2,320.9 L242.0,321.3 L242.7,322.0 L243.5,319.1 L244.2,323.1 L245.0,322.1 L245.7,317.1 L246.5,320.6 L247.2,325.1 L248.0,321.5 L248.7,322.1 L249.5,323.0 L250.2,322.9 L251.0,321.9 L251.7,322.3 L252.5,318.6 L253.2,316.4 L254.0,318.8 L254.7,318.1 L255.5,319.9 L256.2,322.0 L257.0,318.6 L257.7,319.5 L258.5,321.5 L259.2,319.9 L260.0,319.9 L260.7,316.9 L261.5,318.7 L262.2,318.7 L263.0,320.6" fill="none" stroke="#1212e6" stroke-width="1.9" stroke-linejoin="round" stroke-linecap="round" opacity="1"/>
<line x1="94.3" y1="291.5" x2="94.3" y2="296" stroke="#1212e6" stroke-width="1.2" stroke-dasharray="1.5,1.5"/>
<line x1="96.5" y1="318" x2="96.5" y2="336" stroke="#ee1d24" stroke-width="0.9" stroke-dasharray="1.5,1.5"/>
<line x1="97.5" y1="338" x2="97.5" y2="352" stroke="#7f7f0c" stroke-width="0.9" stroke-dasharray="1.5,1.5"/>
<line x1="215.5" y1="254" x2="215.5" y2="262" stroke="#1212e6" stroke-width="1.0" stroke-dasharray="1.5,1.5"/>
<line x1="218.5" y1="283" x2="218.5" y2="318" stroke="#7f7f0c" stroke-width="0.9" stroke-dasharray="1.5,1.5"/>
<line x1="219.5" y1="318" x2="219.5" y2="335" stroke="#333" stroke-width="0.9" stroke-dasharray="1.5,1.5"/>
<text x="30.5" y="253.5" font-size="13.4" fill="#1b871b" text-anchor="start" font-family="&quot;Liberation Sans&quot;, sans-serif" font-weight="bold" >Co 2p</text>
<text x="28.2" y="286.7" font-size="9.5" fill="#1212e6" text-anchor="start" font-family="&quot;Liberation Sans&quot;, sans-serif" font-weight="bold" >796.3 eV</text>
<text x="30.3" y="297.7" font-size="9.5" fill="#ee1d24" text-anchor="start" font-family="&quot;Liberation Sans&quot;, sans-serif" font-weight="bold" >796.1 eV</text>
<text x="33.9" y="309.4" font-size="9.5" fill="#7f7f0c" text-anchor="start" font-family="&quot;Liberation Sans&quot;, sans-serif" font-weight="bold" >796.0 eV</text>
<text x="142.8" y="290" font-size="10.4" fill="#1b871b" text-anchor="end" font-family="&quot;Liberation Sans&quot;, sans-serif" font-weight="bold" >Co 2p 1/2</text>
<text x="193.3" y="256.5" font-size="10.4" fill="#1b871b" text-anchor="start" font-family="&quot;Liberation Sans&quot;, sans-serif" font-weight="bold" >Co 2p 3/2</text>
<text x="199.8" y="279.8" font-size="9.4" fill="#1212e6" text-anchor="end" font-family="&quot;Liberation Sans&quot;, sans-serif" font-weight="bold" >781.0 eV</text>
<text x="195.5" y="291.7" font-size="9.4" fill="#ee1d24" text-anchor="end" font-family="&quot;Liberation Sans&quot;, sans-serif" font-weight="bold" >780.8 eV</text>
<text x="192.2" y="303.7" font-size="9.4" fill="#7f7f0c" text-anchor="end" font-family="&quot;Liberation Sans&quot;, sans-serif" font-weight="bold" >780.7 eV</text>
<text x="67.7" y="378.2" font-size="9.5" fill="#1a1a1a" text-anchor="start" font-family="&quot;Liberation Sans&quot;, sans-serif" font-weight="bold" >795.9 eV</text>
<text x="191.1" y="373.8" font-size="9.5" fill="#1a1a1a" text-anchor="start" font-family="&quot;Liberation Sans&quot;, sans-serif" font-weight="bold" >780.6 eV</text>
<line x1="51.2" y1="394.8" x2="71.9" y2="394.8" stroke="#0c0c0c" stroke-width="2.0"/>
<text x="75.6" y="397.6" font-size="7.7" fill="#222" text-anchor="start" font-family="&quot;Liberation Sans&quot;, sans-serif" font-weight="bold" >NCM811</text>
<line x1="139.4" y1="395.3" x2="160.7" y2="395.3" stroke="#7f7f0c" stroke-width="2.0"/>
<text x="165.1" y="398.1" font-size="7.7" fill="#7f7f0c" text-anchor="start" font-family="&quot;Liberation Sans&quot;, sans-serif" font-weight="bold" >10 Al<tspan dy="2.6" dx="0.4" font-size="5.2">2</tspan><tspan dy="-2.6" dx="0.2">O</tspan><tspan dy="2.6" dx="0.2" font-size="5.2">3</tspan><tspan dy="-2.6" dx="0.2"> ALD NCM811</tspan></text>
<line x1="28.3" y1="405.0" x2="49.4" y2="405.0" stroke="#ee1d24" stroke-width="2.0"/>
<text x="53.8" y="407.8" font-size="7.7" fill="#ee1d24" text-anchor="start" font-family="&quot;Liberation Sans&quot;, sans-serif" font-weight="bold" >20 Al<tspan dy="2.6" dx="0.4" font-size="5.2">2</tspan><tspan dy="-2.6" dx="0.2">O</tspan><tspan dy="2.6" dx="0.2" font-size="5.2">3</tspan><tspan dy="-2.6" dx="0.2"> ALD NCM811</tspan></text>
<line x1="139.4" y1="404.6" x2="160.7" y2="404.6" stroke="#1212e6" stroke-width="2.0"/>
<text x="165.1" y="407.4" font-size="7.7" fill="#1212e6" text-anchor="start" font-family="&quot;Liberation Sans&quot;, sans-serif" font-weight="bold" >50 Al<tspan dy="2.6" dx="0.4" font-size="5.2">2</tspan><tspan dy="-2.6" dx="0.2">O</tspan><tspan dy="2.6" dx="0.2" font-size="5.2">3</tspan><tspan dy="-2.6" dx="0.2"> ALD NCM811</tspan></text>
<path d="M24.9,237.9 H263.0 V413.0 H24.9 Z" fill="none" stroke="#111" stroke-width="1.65" stroke-linejoin="miter"/>
<text x="280.6" y="234.8" font-size="12.7" fill="#111" text-anchor="start" font-family="&quot;Liberation Sans&quot;, sans-serif" font-weight="bold" >(d)</text>
<text x="0" y="0" font-size="12.8" fill="#111" text-anchor="middle" font-family="&quot;Liberation Sans&quot;, sans-serif" font-weight="bold" transform="translate(288.7,339) rotate(-90)">Intensity (a.u.)</text>
<text x="424.4" y="441.8" font-size="12.6" fill="#111" text-anchor="middle" font-family="&quot;Liberation Sans&quot;, sans-serif" font-weight="bold" >Binding Energy (eV)</text>
<line x1="517.46" y1="413.0" x2="517.46" y2="417.2" stroke="#111" stroke-width="1.4"/>
<text x="517.46" y="427" font-size="8.8" fill="#1a1a1a" text-anchor="middle" font-family="&quot;Liberation Sans&quot;, sans-serif" font-weight="bold" >640</text>
<line x1="490.04" y1="413.0" x2="490.04" y2="415.6" stroke="#111" stroke-width="1.4"/>
<line x1="462.62" y1="413.0" x2="462.62" y2="417.2" stroke="#111" stroke-width="1.4"/>
<text x="462.62" y="427" font-size="8.8" fill="#1a1a1a" text-anchor="middle" font-family="&quot;Liberation Sans&quot;, sans-serif" font-weight="bold" >645</text>
<line x1="435.20" y1="413.0" x2="435.20" y2="415.6" stroke="#111" stroke-width="1.4"/>
<line x1="407.78" y1="413.0" x2="407.78" y2="417.2" stroke="#111" stroke-width="1.4"/>
<text x="407.78" y="427" font-size="8.8" fill="#1a1a1a" text-anchor="middle" font-family="&quot;Liberation Sans&quot;, sans-serif" font-weight="bold" >650</text>
<line x1="380.36" y1="413.0" x2="380.36" y2="415.6" stroke="#111" stroke-width="1.4"/>
<line x1="352.94" y1="413.0" x2="352.94" y2="417.2" stroke="#111" stroke-width="1.4"/>
<text x="352.94" y="427" font-size="8.8" fill="#1a1a1a" text-anchor="middle" font-family="&quot;Liberation Sans&quot;, sans-serif" font-weight="bold" >655</text>
<line x1="325.52" y1="413.0" x2="325.52" y2="415.6" stroke="#111" stroke-width="1.4"/>
<line x1="298.10" y1="413.0" x2="298.10" y2="417.2" stroke="#111" stroke-width="1.4"/>
<text x="298.10" y="427" font-size="8.8" fill="#1a1a1a" text-anchor="middle" font-family="&quot;Liberation Sans&quot;, sans-serif" font-weight="bold" >660</text>
<path d="M298.4,369.1 L299.3,370.6 L300.2,371.3 L301.1,368.2 L302.0,371.9 L302.9,371.1 L303.8,372.2 L304.7,371.4 L305.6,373.2 L306.5,369.2 L307.4,374.9 L308.3,373.9 L309.2,370.3 L310.1,373.1 L311.0,372.8 L311.9,368.5 L312.8,373.5 L313.7,371.6 L314.6,372.6 L315.5,372.4 L316.5,373.3 L317.4,374.9 L318.3,375.3 L319.2,372.0 L320.1,374.6 L321.0,372.1 L321.9,371.6 L322.8,373.0 L323.7,374.8 L324.6,373.6 L325.5,370.4 L326.4,369.6 L327.3,369.0 L328.2,370.9 L329.1,372.5 L330.0,370.5 L330.9,371.8 L331.8,371.1 L332.7,373.3 L333.6,365.7 L334.5,365.2 L335.4,369.3 L336.3,371.0 L337.2,368.6 L338.1,369.9 L339.0,366.2 L339.9,365.6 L340.8,366.6 L341.7,369.7 L342.6,369.0 L343.5,365.7 L344.4,367.0 L345.3,364.9 L346.2,365.7 L347.1,362.9 L348.0,364.5 L348.9,362.4 L349.8,363.0 L350.8,361.1 L351.7,360.3 L352.6,362.1 L353.5,361.3 L354.4,362.1 L355.3,361.3 L356.2,363.5 L357.1,360.8 L358.0,364.3 L358.9,365.7 L359.8,362.6 L360.7,367.0 L361.6,367.8 L362.5,364.3 L363.4,360.4 L364.3,359.9 L365.2,363.3 L366.1,367.6 L367.0,365.3 L367.9,365.6 L368.8,363.5 L369.7,362.5 L370.6,364.9 L371.5,362.0 L372.4,364.1 L373.3,365.8 L374.2,365.1 L375.1,366.4 L376.0,364.9 L376.9,367.7 L377.8,367.9 L378.7,364.1 L379.6,365.8 L380.5,367.0 L381.4,370.2 L382.3,369.7 L383.2,369.8 L384.1,369.8 L385.1,370.9 L386.0,371.7 L386.9,368.5 L387.8,366.5 L388.7,371.4 L389.6,370.0 L390.5,370.8 L391.4,370.7 L392.3,369.0 L393.2,368.7 L394.1,374.4 L395.0,375.1 L395.9,374.8 L396.8,373.2 L397.7,373.0 L398.6,371.2 L399.5,371.8 L400.4,370.4 L401.3,369.8 L402.2,371.1 L403.1,373.5 L404.0,365.6 L404.9,370.2 L405.8,369.9 L406.7,365.5 L407.6,368.2 L408.5,367.4 L409.4,365.8 L410.3,365.2 L411.2,363.2 L412.1,369.6 L413.0,370.9 L413.9,368.8 L414.8,364.3 L415.7,365.0 L416.6,364.6 L417.5,361.6 L418.4,362.2 L419.4,363.3 L420.3,360.5 L421.2,357.0 L422.1,357.6 L423.0,360.4 L423.9,358.8 L424.8,358.6 L425.7,361.7 L426.6,358.7 L427.5,356.6 L428.4,357.8 L429.3,362.1 L430.2,355.0 L431.1,360.6 L432.0,359.6 L432.9,355.6 L433.8,354.8 L434.7,357.9 L435.6,355.0 L436.5,352.8 L437.4,357.1 L438.3,353.1 L439.2,352.4 L440.1,350.6 L441.0,348.3 L441.9,347.6 L442.8,345.3 L443.7,346.3 L444.6,347.5 L445.5,348.2 L446.4,349.3 L447.3,350.6 L448.2,349.2 L449.1,345.2 L450.0,345.5 L450.9,336.8 L451.8,335.8 L452.7,336.4 L453.7,332.5 L454.6,339.0 L455.5,334.0 L456.4,332.9 L457.3,334.5 L458.2,334.7 L459.1,336.4 L460.0,336.0 L460.9,337.6 L461.8,334.0 L462.7,333.1 L463.6,329.3 L464.5,331.0 L465.4,327.1 L466.3,323.6 L467.2,329.1 L468.1,323.1 L469.0,321.9 L469.9,322.1 L470.8,325.1 L471.7,320.5 L472.6,322.8 L473.5,325.1 L474.4,327.9 L475.3,323.2 L476.2,323.6 L477.1,321.7 L478.0,326.9 L478.9,321.5 L479.8,320.4 L480.7,319.7 L481.6,316.4 L482.5,317.0 L483.4,313.6 L484.3,318.7 L485.2,315.5 L486.1,316.2 L487.0,320.0 L488.0,316.3 L488.9,322.7 L489.8,323.6 L490.7,319.3 L491.6,322.6 L492.5,321.7 L493.4,324.3 L494.3,323.4 L495.2,323.4 L496.1,329.0 L497.0,329.5 L497.9,331.4 L498.8,333.1 L499.7,333.3 L500.6,331.5 L501.5,327.1 L502.4,333.0 L503.3,334.0 L504.2,339.9 L505.1,339.8 L506.0,345.2 L506.9,345.4 L507.8,346.0 L508.7,347.9 L509.6,344.8 L510.5,350.7 L511.4,350.7 L512.3,349.0 L513.2,353.0 L514.1,353.7 L515.0,354.4 L515.9,354.2 L516.8,356.9 L517.7,357.7 L518.6,356.9 L519.5,357.1 L520.4,356.9 L521.3,357.4 L522.3,360.5 L523.2,358.8 L524.1,357.7 L525.0,362.1 L525.9,364.9 L526.8,363.1 L527.7,366.5 L528.6,366.6 L529.5,364.5 L530.4,368.1 L531.3,368.3 L532.2,370.4 L533.1,363.9 L534.0,371.9 L534.9,372.4 L535.8,369.5 L536.7,374.0 L537.6,371.9 L538.5,372.9 L539.4,374.7" fill="none" stroke="#0c0c0c" stroke-width="1.9" stroke-linejoin="round" stroke-linecap="round" opacity="1"/>
<path d="M298.4,355.8 L299.4,355.7 L300.4,355.1 L301.4,355.6 L302.4,354.4 L303.4,353.7 L304.4,356.6 L305.4,355.7 L306.4,353.5 L307.4,354.2 L308.4,354.9 L309.4,356.1 L310.4,357.0 L311.4,356.2 L312.4,355.6 L313.4,356.3 L314.4,355.9 L315.4,356.2 L316.4,355.5 L317.4,355.3 L318.4,357.4 L319.4,356.3 L320.4,356.5 L321.4,355.9 L322.4,355.9 L323.4,356.1 L324.4,357.0 L325.4,357.4 L326.4,356.5 L327.4,355.5 L328.4,357.9 L329.4,356.2 L330.4,355.6 L331.4,353.9 L332.4,353.7 L333.4,353.9 L334.4,351.7 L335.4,352.1 L336.4,353.2 L337.4,354.6 L338.4,352.4 L339.4,350.4 L340.4,349.9 L341.4,351.3 L342.4,349.6 L343.4,349.7 L344.4,351.2 L345.4,349.3 L346.4,348.3 L347.4,347.9 L348.4,349.4 L349.4,349.1 L350.4,346.9 L351.4,345.8 L352.4,346.7 L353.4,347.9 L354.4,346.8 L355.4,345.1 L356.4,346.2 L357.4,346.6 L358.4,346.0 L359.4,346.1 L360.4,346.0 L361.4,345.7 L362.4,345.6 L363.4,345.2 L364.4,345.5 L365.4,345.6 L366.4,347.8 L367.4,348.3 L368.4,348.3 L369.4,348.9 L370.4,349.0 L371.4,348.8 L372.4,350.0 L373.4,350.1 L374.4,350.3 L375.4,349.2 L376.4,350.7 L377.4,351.9 L378.4,351.5 L379.4,351.0 L380.4,350.6 L381.4,351.8 L382.4,353.8 L383.4,352.5 L384.4,353.8 L385.4,352.9 L386.4,354.0 L387.4,352.9 L388.4,353.6 L389.4,354.0 L390.4,353.7 L391.4,352.3 L392.4,352.4 L393.4,351.9 L394.4,352.3 L395.4,352.1 L396.4,352.0 L397.4,352.4 L398.4,350.9 L399.4,350.8 L400.4,350.9 L401.4,351.0 L402.4,350.6 L403.4,351.3 L404.4,350.2 L405.4,352.2 L406.4,351.0 L407.4,351.3 L408.4,349.3 L409.4,349.5 L410.4,350.0 L411.4,351.1 L412.4,349.8 L413.4,350.3 L414.4,348.5 L415.4,349.8 L416.4,347.7 L417.4,346.2 L418.4,345.9 L419.4,347.6 L420.4,347.3 L421.4,347.4 L422.4,347.0 L423.4,347.4 L424.4,348.0 L425.4,346.3 L426.4,346.2 L427.4,345.3 L428.4,343.9 L429.4,345.0 L430.4,346.1 L431.4,344.2 L432.4,346.1 L433.4,344.4 L434.4,343.6 L435.4,343.4 L436.4,342.0 L437.4,341.5 L438.4,341.7 L439.4,339.5 L440.4,338.9 L441.4,337.5 L442.4,338.2 L443.4,340.0 L444.4,337.6 L445.4,334.5 L446.4,332.9 L447.4,334.1 L448.4,333.5 L449.4,331.8 L450.4,332.5 L451.4,331.1 L452.4,330.4 L453.4,329.7 L454.4,329.0 L455.4,326.8 L456.4,325.8 L457.4,326.7 L458.4,324.7 L459.4,323.0 L460.4,323.5 L461.4,322.3 L462.4,322.6 L463.4,324.5 L464.4,322.6 L465.4,319.7 L466.4,318.3 L467.4,318.5 L468.4,317.3 L469.4,317.7 L470.4,317.2 L471.4,316.8 L472.4,315.4 L473.4,313.5 L474.4,313.9 L475.4,313.6 L476.4,313.2 L477.4,313.2 L478.4,310.6 L479.4,310.4 L480.4,309.4 L481.4,308.7 L482.4,309.5 L483.4,308.8 L484.4,310.5 L485.4,307.5 L486.4,310.7 L487.4,310.0 L488.4,309.6 L489.4,311.3 L490.4,312.1 L491.4,313.5 L492.4,314.3 L493.4,313.5 L494.4,314.9 L495.4,316.4 L496.4,317.4 L497.4,318.3 L498.4,321.1 L499.4,321.9 L500.4,322.6 L501.4,326.0 L502.4,327.9 L503.4,329.9 L504.4,332.5 L505.4,333.6 L506.4,334.3 L507.4,335.3 L508.4,336.3 L509.4,335.9 L510.4,337.2 L511.4,338.7 L512.4,337.8 L513.4,338.2 L514.4,338.8 L515.4,340.7 L516.4,340.2 L517.4,341.7 L518.4,341.0 L519.4,341.8 L520.4,342.2 L521.4,341.8 L522.4,341.8 L523.4,343.7 L524.4,343.2 L525.4,344.3 L526.4,344.7 L527.4,343.6 L528.4,346.2 L529.4,346.1 L530.4,346.2 L531.4,346.7 L532.4,347.3 L533.4,348.7 L534.4,350.7 L535.4,349.3 L536.4,348.5 L537.4,349.7 L538.4,351.8 L539.4,350.4" fill="none" stroke="#7f7f0c" stroke-width="1.7" stroke-linejoin="round" stroke-linecap="round" opacity="1"/>
<path d="M298.4,350.0 L299.4,349.0 L300.4,350.1 L301.4,349.4 L302.4,347.8 L303.4,350.4 L304.4,349.6 L305.4,350.5 L306.4,351.9 L307.4,350.0 L308.4,348.1 L309.4,348.7 L310.4,350.4 L311.4,347.9 L312.4,349.6 L313.4,349.8 L314.4,348.2 L315.4,349.6 L316.4,350.1 L317.4,348.5 L318.4,348.8 L319.4,349.7 L320.4,347.5 L321.4,347.9 L322.4,349.9 L323.4,348.7 L324.4,346.7 L325.4,348.3 L326.4,350.0 L327.4,346.3 L328.4,348.3 L329.4,348.2 L330.4,346.9 L331.4,347.2 L332.4,345.9 L333.4,348.2 L334.4,348.1 L335.4,344.9 L336.4,345.1 L337.4,345.3 L338.4,344.4 L339.4,345.0 L340.4,343.5 L341.4,344.9 L342.4,343.9 L343.4,343.8 L344.4,344.2 L345.4,344.2 L346.4,341.7 L347.4,342.8 L348.4,342.1 L349.4,340.5 L350.4,341.4 L351.4,338.7 L352.4,338.5 L353.4,339.3 L354.4,338.3 L355.4,340.4 L356.4,339.4 L357.4,340.6 L358.4,337.5 L359.4,337.6 L360.4,340.2 L361.4,338.3 L362.4,340.5 L363.4,339.1 L364.4,340.7 L365.4,342.1 L366.4,341.0 L367.4,340.0 L368.4,341.4 L369.4,343.9 L370.4,343.7 L371.4,344.7 L372.4,344.7 L373.4,345.4 L374.4,345.4 L375.4,345.1 L376.4,347.3 L377.4,347.3 L378.4,345.4 L379.4,348.2 L380.4,350.4 L381.4,351.7 L382.4,348.5 L383.4,350.3 L384.4,351.4 L385.4,351.7 L386.4,350.3 L387.4,351.4 L388.4,350.5 L389.4,350.6 L390.4,350.0 L391.4,350.6 L392.4,349.7 L393.4,350.1 L394.4,349.6 L395.4,350.6 L396.4,351.1 L397.4,348.7 L398.4,347.4 L399.4,347.6 L400.4,346.9 L401.4,345.5 L402.4,347.0 L403.4,346.6 L404.4,347.8 L405.4,346.7 L406.4,347.5 L407.4,346.9 L408.4,345.0 L409.4,344.7 L410.4,344.1 L411.4,343.9 L412.4,344.8 L413.4,342.8 L414.4,342.1 L415.4,341.4 L416.4,343.2 L417.4,340.8 L418.4,340.0 L419.4,338.8 L420.4,339.3 L421.4,337.7 L422.4,336.8 L423.4,334.7 L424.4,334.7 L425.4,336.5 L426.4,336.5 L427.4,333.3 L428.4,334.5 L429.4,334.6 L430.4,336.8 L431.4,331.6 L432.4,330.6 L433.4,329.7 L434.4,331.1 L435.4,330.6 L436.4,328.5 L437.4,329.7 L438.4,329.5 L439.4,325.8 L440.4,325.7 L441.4,324.1 L442.4,322.7 L443.4,322.0 L444.4,321.4 L445.4,319.5 L446.4,320.2 L447.4,320.4 L448.4,317.7 L449.4,317.0 L450.4,316.0 L451.4,316.7 L452.4,315.7 L453.4,315.9 L454.4,313.6 L455.4,311.5 L456.4,312.9 L457.4,311.6 L458.4,312.3 L459.4,310.6 L460.4,305.7 L461.4,305.4 L462.4,306.8 L463.4,304.9 L464.4,302.2 L465.4,303.2 L466.4,304.6 L467.4,302.8 L468.4,300.0 L469.4,300.4 L470.4,300.4 L471.4,298.5 L472.4,299.4 L473.4,296.4 L474.4,298.6 L475.4,297.5 L476.4,295.4 L477.4,294.2 L478.4,293.0 L479.4,291.6 L480.4,293.5 L481.4,294.0 L482.4,293.6 L483.4,293.2 L484.4,293.3 L485.4,292.6 L486.4,293.4 L487.4,293.6 L488.4,296.5 L489.4,296.3 L490.4,299.2 L491.4,299.5 L492.4,303.6 L493.4,306.0 L494.4,307.8 L495.4,309.0 L496.4,309.1 L497.4,310.8 L498.4,312.6 L499.4,316.1 L500.4,319.6 L501.4,319.0 L502.4,324.1 L503.4,322.7 L504.4,323.5 L505.4,327.1 L506.4,329.6 L507.4,329.3 L508.4,330.0 L509.4,333.8 L510.4,331.9 L511.4,334.6 L512.4,334.4 L513.4,334.3 L514.4,335.1 L515.4,334.2 L516.4,334.7 L517.4,336.7 L518.4,335.8 L519.4,336.7 L520.4,340.0 L521.4,341.2 L522.4,340.9 L523.4,340.7 L524.4,339.8 L525.4,340.4 L526.4,339.6 L527.4,338.0 L528.4,341.9 L529.4,343.2 L530.4,344.7 L531.4,343.6 L532.4,346.9 L533.4,346.2 L534.4,346.0 L535.4,347.9 L536.4,349.7 L537.4,349.0 L538.4,349.3 L539.4,347.8" fill="none" stroke="#ee1d24" stroke-width="1.8" stroke-linejoin="round" stroke-linecap="round" opacity="1"/>
<path d="M298.4,319.1 L299.4,318.3 L300.4,321.8 L301.4,320.1 L302.4,319.9 L303.4,319.0 L304.4,319.2 L305.4,319.5 L306.4,319.3 L307.4,318.6 L308.4,319.7 L309.4,319.7 L310.4,319.1 L311.4,318.6 L312.4,318.6 L313.4,318.9 L314.4,320.4 L315.4,320.2 L316.4,321.2 L317.4,319.8 L318.4,321.0 L319.4,320.3 L320.4,319.7 L321.4,321.0 L322.4,320.1 L323.4,320.4 L324.4,320.3 L325.4,319.1 L326.4,317.7 L327.4,318.0 L328.4,318.4 L329.4,316.7 L330.4,317.4 L331.4,316.7 L332.4,316.4 L333.4,316.3 L334.4,316.0 L335.4,316.7 L336.4,316.9 L337.4,314.4 L338.4,315.4 L339.4,315.8 L340.4,315.1 L341.4,315.7 L342.4,314.4 L343.4,315.7 L344.4,316.0 L345.4,315.4 L346.4,314.2 L347.4,315.8 L348.4,313.6 L349.4,313.4 L350.4,311.6 L351.4,311.5 L352.4,312.4 L353.4,311.3 L354.4,313.7 L355.4,315.4 L356.4,312.8 L357.4,314.0 L358.4,315.5 L359.4,314.8 L360.4,316.0 L361.4,315.5 L362.4,313.6 L363.4,312.9 L364.4,315.6 L365.4,317.2 L366.4,316.0 L367.4,317.8 L368.4,315.7 L369.4,317.7 L370.4,317.3 L371.4,317.4 L372.4,317.3 L373.4,317.2 L374.4,317.7 L375.4,317.1 L376.4,318.9 L377.4,317.3 L378.4,318.7 L379.4,317.2 L380.4,317.0 L381.4,318.9 L382.4,318.8 L383.4,318.6 L384.4,319.8 L385.4,317.5 L386.4,318.6 L387.4,318.2 L388.4,319.0 L389.4,316.2 L390.4,316.3 L391.4,316.0 L392.4,315.4 L393.4,314.6 L394.4,315.7 L395.4,315.5 L396.4,314.7 L397.4,314.9 L398.4,313.7 L399.4,316.4 L400.4,315.6 L401.4,315.0 L402.4,315.1 L403.4,313.7 L404.4,312.9 L405.4,312.7 L406.4,312.2 L407.4,312.4 L408.4,313.5 L409.4,312.0 L410.4,313.3 L411.4,312.4 L412.4,313.1 L413.4,310.4 L414.4,309.6 L415.4,309.1 L416.4,307.5 L417.4,309.9 L418.4,309.6 L419.4,308.9 L420.4,308.6 L421.4,308.9 L422.4,306.9 L423.4,307.6 L424.4,307.5 L425.4,307.7 L426.4,308.0 L427.4,306.5 L428.4,304.9 L429.4,305.6 L430.4,304.7 L431.4,304.4 L432.4,303.0 L433.4,303.3 L434.4,303.2 L435.4,302.7 L436.4,303.3 L437.4,304.1 L438.4,301.8 L439.4,300.3 L440.4,300.6 L441.4,301.5 L442.4,300.2 L443.4,300.3 L444.4,299.2 L445.4,299.1 L446.4,297.4 L447.4,298.3 L448.4,296.9 L449.4,296.7 L450.4,296.6 L451.4,293.0 L452.4,295.9 L453.4,296.6 L454.4,293.6 L455.4,292.5 L456.4,292.4 L457.4,292.8 L458.4,291.4 L459.4,289.5 L460.4,288.7 L461.4,287.1 L462.4,286.6 L463.4,285.0 L464.4,283.2 L465.4,284.2 L466.4,283.7 L467.4,284.3 L468.4,282.8 L469.4,286.2 L470.4,287.2 L471.4,285.0 L472.4,283.5 L473.4,283.1 L474.4,285.8 L475.4,285.0 L476.4,285.1 L477.4,284.2 L478.4,282.5 L479.4,283.2 L480.4,283.1 L481.4,281.7 L482.4,281.8 L483.4,280.5 L484.4,281.5 L485.4,279.4 L486.4,282.4 L487.4,283.9 L488.4,286.5 L489.4,288.8 L490.4,289.7 L491.4,290.5 L492.4,291.3 L493.4,294.3 L494.4,295.0 L495.4,296.6 L496.4,297.5 L497.4,298.6 L498.4,299.0 L499.4,302.5 L500.4,301.0 L501.4,300.5 L502.4,300.9 L503.4,302.1 L504.4,301.9 L505.4,303.4 L506.4,303.3 L507.4,304.1 L508.4,305.4 L509.4,305.3 L510.4,305.8 L511.4,306.6 L512.4,307.9 L513.4,307.2 L514.4,308.8 L515.4,308.9 L516.4,308.8 L517.4,307.6 L518.4,308.9 L519.4,307.9 L520.4,308.9 L521.4,309.6 L522.4,309.5 L523.4,309.2 L524.4,311.5 L525.4,311.1 L526.4,312.7 L527.4,311.6 L528.4,310.3 L529.4,313.7 L530.4,314.3 L531.4,315.1 L532.4,313.4 L533.4,312.2 L534.4,314.7 L535.4,314.4 L536.4,315.1 L537.4,315.5 L538.4,316.4 L539.4,319.5" fill="none" stroke="#1212e6" stroke-width="1.8" stroke-linejoin="round" stroke-linecap="round" opacity="1"/>
<line x1="352.5" y1="306" x2="352.5" y2="312" stroke="#1212e6" stroke-width="1.0" stroke-dasharray="1.5,1.5"/>
<line x1="358.5" y1="332" x2="358.5" y2="338" stroke="#ee1d24" stroke-width="1.0" stroke-dasharray="1.5,1.5"/>
<line x1="359.5" y1="341" x2="359.5" y2="347" stroke="#7f7f0c" stroke-width="1.0" stroke-dasharray="1.5,1.5"/>
<line x1="481.5" y1="275" x2="481.5" y2="281" stroke="#1212e6" stroke-width="1.0" stroke-dasharray="1.5,1.5"/>
<line x1="482.5" y1="288" x2="482.5" y2="292" stroke="#ee1d24" stroke-width="1.0" stroke-dasharray="1.5,1.5"/>
<line x1="484.5" y1="301" x2="484.5" y2="308" stroke="#7f7f0c" stroke-width="1.0" stroke-dasharray="1.5,1.5"/>
<text x="306.5" y="254.9" font-size="13.3" fill="#1b871b" text-anchor="start" font-family="&quot;Liberation Sans&quot;, sans-serif" font-weight="bold" >Mn 2p</text>
<text x="334.7" y="306.2" font-size="10" fill="#1b871b" text-anchor="start" font-family="&quot;Liberation Sans&quot;, sans-serif" font-weight="bold" >Mn 2p 1/2</text>
<text x="459.6" y="269.6" font-size="10.2" fill="#1b871b" text-anchor="start" font-family="&quot;Liberation Sans&quot;, sans-serif" font-weight="bold" >Mn 2p 3/2</text>
<text x="331.6" y="380.5" font-size="9.5" fill="#1a1a1a" text-anchor="start" font-family="&quot;Liberation Sans&quot;, sans-serif" font-weight="bold" >654.6 eV</text>
<text x="462.2" y="346.0" font-size="9.5" fill="#1a1a1a" text-anchor="start" font-family="&quot;Liberation Sans&quot;, sans-serif" font-weight="bold" >642.9 eV</text>
<text font-size="9.5" fill="#1212e6" font-family="&quot;Liberation Sans&quot;, sans-serif" font-weight="bold" transform="translate(352.8,323.2) rotate(19)">655.2 eV</text>
<text font-size="9.5" fill="#ee1d24" font-family="&quot;Liberation Sans&quot;, sans-serif" font-weight="bold" transform="translate(316.8,342.3) rotate(-15)">654.8 eV</text>
<text font-size="9.5" fill="#7f7f0c" font-family="&quot;Liberation Sans&quot;, sans-serif" font-weight="bold" transform="translate(324,366.5) rotate(-20)">654.7 eV</text>
<text font-size="9.5" fill="#1212e6" font-family="&quot;Liberation Sans&quot;, sans-serif" font-weight="bold" transform="translate(490.5,282.5) rotate(21)">643.5 eV</text>
<text font-size="9.5" fill="#7f7f0c" font-family="&quot;Liberation Sans&quot;, sans-serif" font-weight="bold" transform="translate(499.5,313.5) rotate(22)">643.0 eV</text>
<text font-size="9.5" fill="#ee1d24" font-family="&quot;Liberation Sans&quot;, sans-serif" font-weight="bold" transform="translate(436,319) rotate(-30)">643.1 eV</text>
<line x1="331.5" y1="393.7" x2="351.8" y2="393.7" stroke="#0c0c0c" stroke-width="2.0"/>
<text x="354.7" y="396.5" font-size="7.7" fill="#222" text-anchor="start" font-family="&quot;Liberation Sans&quot;, sans-serif" font-weight="bold" >NCM811</text>
<line x1="422.5" y1="394.3" x2="442.9" y2="394.3" stroke="#7f7f0c" stroke-width="2.0"/>
<text x="446.4" y="397.1" font-size="7.7" fill="#7f7f0c" text-anchor="start" font-family="&quot;Liberation Sans&quot;, sans-serif" font-weight="bold" >10 Al<tspan dy="2.6" dx="0.4" font-size="5.2">2</tspan><tspan dy="-2.6" dx="0.2">O</tspan><tspan dy="2.6" dx="0.2" font-size="5.2">3</tspan><tspan dy="-2.6" dx="0.2"> ALD NCM811</tspan></text>
<line x1="303.8" y1="403.9" x2="325.6" y2="403.9" stroke="#ee1d24" stroke-width="2.0"/>
<text x="328.5" y="406.7" font-size="7.7" fill="#ee1d24" text-anchor="start" font-family="&quot;Liberation Sans&quot;, sans-serif" font-weight="bold" >20 Al<tspan dy="2.6" dx="0.4" font-size="5.2">2</tspan><tspan dy="-2.6" dx="0.2">O</tspan><tspan dy="2.6" dx="0.2" font-size="5.2">3</tspan><tspan dy="-2.6" dx="0.2"> ALD NCM811</tspan></text>
<line x1="422.5" y1="404.4" x2="442.9" y2="404.4" stroke="#1212e6" stroke-width="2.0"/>
<text x="446.4" y="407.2" font-size="7.7" fill="#1212e6" text-anchor="start" font-family="&quot;Liberation Sans&quot;, sans-serif" font-weight="bold" >50 Al<tspan dy="2.6" dx="0.4" font-size="5.2">2</tspan><tspan dy="-2.6" dx="0.2">O</tspan><tspan dy="2.6" dx="0.2" font-size="5.2">3</tspan><tspan dy="-2.6" dx="0.2"> ALD NCM811</tspan></text>
<path d="M298.1,238.2 H539.4 V413.0 H298.1 Z" fill="none" stroke="#111" stroke-width="1.65" stroke-linejoin="miter"/>
</svg>
</body></html>
